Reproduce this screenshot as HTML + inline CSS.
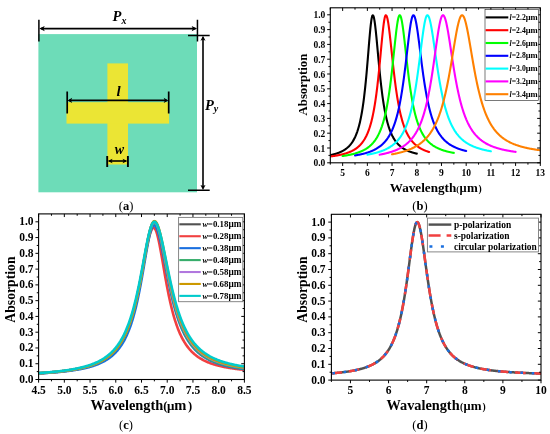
<!DOCTYPE html>
<html lang="en"><head><meta charset="utf-8"><title>Figure</title>
<style>html,body{margin:0;padding:0;background:#fff}svg{display:block}text{font-family:'Liberation Serif', 'DejaVu Serif', serif;font-weight:bold;fill:#000}</style></head><body>
<svg width="550" height="434" viewBox="0 0 550 434">
<rect width="550" height="434" fill="#fff"/>
<g id="pa">
<rect x="38.4" y="34.1" width="158.6" height="158.2" fill="#6ddcb8"/>
<rect x="107.4" y="63.4" width="20.6" height="101.1" fill="#ebe534"/>
<rect x="66.5" y="102.2" width="102.6" height="21.4" fill="#ebe534"/>
<path d="M38.9 19.8 V41.4 M197.45 19.8 V41.4" stroke="#000" stroke-width="1.5" fill="none"/>
<path d="M40.9 28.6 H195.45" stroke="#000" stroke-width="1.6" fill="none"/>
<path d="M39.3 28.6 l5.4 -2.7 l-1.2 2.7 l1.2 2.7z" fill="#000"/>
<path d="M197.05 28.6 l-5.4 -2.7 l1.2 2.7 l-1.2 2.7z" fill="#000"/>
<path d="M188 35.4 H209.7 M188 190.3 H209.7" stroke="#000" stroke-width="1.5" fill="none"/>
<path d="M203 37.4 V188.3" stroke="#000" stroke-width="1.6" fill="none"/>
<path d="M203 35.8 l-2.5 5 l2.5 -1.2 l2.5 1.2z" fill="#000"/>
<path d="M203 189.9 l-2.5 -5 l2.5 1.2 l2.5 -1.2z" fill="#000"/>
<path d="M67.2 91.5 V113.4 M168.7 91.5 V113.4" stroke="#000" stroke-width="1.7" fill="none"/>
<path d="M69.2 100.4 H166.7" stroke="#000" stroke-width="1.6" fill="none"/>
<path d="M67.6 100.4 l4.6 -2.6 l-1.2 2.6 l1.2 2.6z" fill="#000"/>
<path d="M168.3 100.4 l-4.6 -2.6 l1.2 2.6 l-1.2 2.6z" fill="#000"/>
<path d="M107.2 156.1 V167 M127.9 156.1 V167" stroke="#000" stroke-width="1.9" fill="none"/>
<path d="M109.2 161 H125.9" stroke="#000" stroke-width="1.6" fill="none"/>
<path d="M107.6 161 l5 -2.3 l-1.2 2.3 l1.2 2.3z" fill="#000"/>
<path d="M127.5 161 l-5 -2.3 l1.2 2.3 l-1.2 2.3z" fill="#000"/>
<text x="112.6" y="20.8" font-size="14.5" font-style="italic">P<tspan font-size="10" dy="3">x</tspan></text>
<text x="205" y="109.8" font-size="14.5" font-style="italic">P<tspan font-size="10" dy="2.4">y</tspan></text>
<text x="118.5" y="96.4" font-size="15" font-style="italic" text-anchor="middle">l</text>
<text x="119.5" y="154.4" font-size="14" font-style="italic" text-anchor="middle">w</text>
<text x="126" y="209.8" font-size="12.5" text-anchor="middle" style="font-weight:normal">(<tspan style="font-weight:bold">a</tspan>)</text>
</g>
<g id="pb">
<clipPath id="cb"><rect x="330.3" y="7.8" width="210" height="155"/></clipPath>
<g clip-path="url(#cb)" fill="none" stroke-width="2.1" stroke-linejoin="round" stroke-linecap="round">
<path d="M330.3 155.11 L330.59 155.06 L330.88 154.99 L331.16 154.93 L331.45 154.87 L331.74 154.8 L332.03 154.74 L332.32 154.67 L332.61 154.6 L332.89 154.53 L333.18 154.46 L333.47 154.39 L333.76 154.31 L334.05 154.24 L334.34 154.16 L334.62 154.08 L334.91 154 L335.2 153.92 L335.49 153.83 L335.78 153.75 L336.06 153.66 L336.35 153.57 L336.64 153.47 L336.93 153.38 L337.22 153.28 L337.51 153.18 L337.79 153.08 L338.08 152.98 L338.37 152.87 L338.66 152.76 L338.95 152.65 L339.24 152.54 L339.52 152.42 L339.81 152.3 L340.1 152.18 L340.39 152.05 L340.68 151.92 L340.96 151.79 L341.25 151.66 L341.54 151.52 L341.83 151.38 L342.12 151.23 L342.41 151.08 L342.69 150.93 L342.98 150.77 L343.27 150.6 L343.56 150.44 L343.85 150.27 L344.14 150.09 L344.42 149.91 L344.71 149.72 L345 149.53 L345.29 149.33 L345.58 149.13 L345.86 148.92 L346.15 148.71 L346.44 148.49 L346.73 148.26 L347.02 148.02 L347.31 147.78 L347.59 147.53 L347.88 147.27 L348.17 147.01 L348.46 146.74 L348.75 146.45 L349.04 146.16 L349.32 145.86 L349.61 145.55 L349.9 145.23 L350.19 144.9 L350.48 144.56 L350.76 144.2 L351.05 143.84 L351.34 143.46 L351.63 143.07 L351.92 142.66 L352.21 142.24 L352.49 141.81 L352.78 141.35 L353.07 140.89 L353.36 140.4 L353.65 139.9 L353.94 139.38 L354.22 138.84 L354.51 138.27 L354.8 137.69 L355.09 137.08 L355.38 136.45 L355.66 135.79 L355.95 135.11 L356.24 134.4 L356.53 133.66 L356.82 132.89 L357.11 132.09 L357.39 131.26 L357.68 130.39 L357.97 129.48 L358.26 128.53 L358.55 127.54 L358.84 126.51 L359.12 125.44 L359.41 124.31 L359.7 123.14 L359.99 121.91 L360.28 120.63 L360.56 119.29 L360.85 117.89 L361.14 116.42 L361.43 114.89 L361.72 113.29 L362.01 111.62 L362.29 109.87 L362.58 108.04 L362.87 106.12 L363.16 104.13 L363.45 102.04 L363.74 99.85 L364.02 97.58 L364.31 95.2 L364.6 92.73 L364.89 90.15 L365.18 87.47 L365.46 84.69 L365.75 81.8 L366.04 78.82 L366.33 75.73 L366.62 72.55 L366.91 69.28 L367.19 65.93 L367.48 62.52 L367.77 59.04 L368.06 55.52 L368.35 51.97 L368.64 48.43 L368.92 44.9 L369.21 41.42 L369.5 38.01 L369.79 34.72 L370.08 31.56 L370.36 28.59 L370.65 25.83 L370.94 23.32 L371.23 21.1 L371.52 19.19 L371.81 17.64 L372.09 16.45 L372.38 15.67 L372.67 15.28 L372.96 15.3 L373.25 15.65 L373.54 16.32 L373.82 17.3 L374.11 18.59 L374.4 20.16 L374.69 21.99 L374.98 24.06 L375.26 26.35 L375.55 28.83 L375.84 31.48 L376.13 34.28 L376.42 37.18 L376.71 40.18 L376.99 43.25 L377.28 46.36 L377.57 49.5 L377.86 52.65 L378.15 55.8 L378.44 58.92 L378.72 62 L379.01 65.05 L379.3 68.03 L379.59 70.96 L379.88 73.82 L380.16 76.6 L380.45 79.31 L380.74 81.95 L381.03 84.5 L381.32 86.96 L381.61 89.35 L381.89 91.66 L382.18 93.88 L382.47 96.03 L382.76 98.09 L383.05 100.08 L383.34 102 L383.62 103.84 L383.91 105.61 L384.2 107.31 L384.49 108.95 L384.78 110.53 L385.06 112.04 L385.35 113.49 L385.64 114.89 L385.93 116.23 L386.22 117.52 L386.51 118.76 L386.79 119.95 L387.08 121.09 L387.37 122.2 L387.66 123.25 L387.95 124.27 L388.24 125.25 L388.52 126.19 L388.81 127.1 L389.1 127.98 L389.39 128.82 L389.68 129.63 L389.96 130.41 L390.25 131.16 L390.54 131.88 L390.83 132.58 L391.12 133.25 L391.41 133.9 L391.69 134.53 L391.98 135.14 L392.27 135.72 L392.56 136.29 L392.85 136.83 L393.14 137.36 L393.42 137.87 L393.71 138.36 L394 138.84 L394.29 139.3 L394.58 139.74 L394.86 140.17 L395.15 140.59 L395.44 141 L395.73 141.39 L396.02 141.77 L396.31 142.13 L396.59 142.49 L396.88 142.84 L397.17 143.17 L397.46 143.5 L397.75 143.81 L398.04 144.12 L398.32 144.42 L398.61 144.71 L398.9 144.99 L399.19 145.26 L399.48 145.52 L399.76 145.78 L400.05 146.03 L400.34 146.28 L400.63 146.51 L400.92 146.74 L401.21 146.97 L401.49 147.18 L401.78 147.4 L402.07 147.6 L402.36 147.81 L402.65 148 L402.94 148.19 L403.22 148.38 L403.51 148.56 L403.8 148.74 L404.09 148.91 L404.38 149.08 L404.66 149.24 L404.95 149.4 L405.24 149.56 L405.53 149.71 L405.82 149.86 L406.11 150.01 L406.39 150.15 L406.68 150.29 L406.97 150.42 L407.26 150.55 L407.55 150.68 L407.84 150.81 L408.12 150.93 L408.41 151.05 L408.7 151.17 L408.99 151.29 L409.28 151.4 L409.56 151.51 L409.85 151.62 L410.14 151.72 L410.43 151.83 L410.72 151.93 L411.01 152.03 L411.29 152.12 L411.58 152.22 L411.87 152.31 L412.16 152.4 L412.45 152.49 L412.74 152.58 L413.02 152.67 L413.31 152.75 L413.6 152.83 L413.89 152.91 L414.18 152.99 L414.46 153.07 L414.75 153.14 L415.04 153.22 L415.33 153.29 L415.62 153.36 L415.91 153.43 L416.19 153.5 L416.48 153.57 L416.77 153.64" stroke="#000000"/>
<path d="M330.3 156.45 L330.63 156.41 L330.96 156.37 L331.29 156.32 L331.62 156.28 L331.95 156.24 L332.28 156.19 L332.61 156.15 L332.94 156.1 L333.26 156.06 L333.59 156.01 L333.92 155.96 L334.25 155.91 L334.58 155.86 L334.91 155.81 L335.24 155.76 L335.57 155.7 L335.9 155.65 L336.23 155.59 L336.56 155.54 L336.89 155.48 L337.22 155.42 L337.55 155.36 L337.88 155.3 L338.21 155.24 L338.54 155.18 L338.86 155.11 L339.19 155.05 L339.52 154.98 L339.85 154.91 L340.18 154.84 L340.51 154.77 L340.84 154.7 L341.17 154.62 L341.5 154.55 L341.83 154.47 L342.16 154.39 L342.49 154.31 L342.82 154.23 L343.15 154.14 L343.48 154.05 L343.81 153.97 L344.14 153.88 L344.46 153.78 L344.79 153.69 L345.12 153.59 L345.45 153.49 L345.78 153.39 L346.11 153.29 L346.44 153.18 L346.77 153.07 L347.1 152.96 L347.43 152.85 L347.76 152.73 L348.09 152.61 L348.42 152.49 L348.75 152.36 L349.08 152.24 L349.41 152.1 L349.74 151.97 L350.06 151.83 L350.39 151.69 L350.72 151.54 L351.05 151.39 L351.38 151.24 L351.71 151.08 L352.04 150.92 L352.37 150.75 L352.7 150.58 L353.03 150.4 L353.36 150.22 L353.69 150.04 L354.02 149.85 L354.35 149.65 L354.68 149.45 L355.01 149.24 L355.34 149.03 L355.66 148.81 L355.99 148.58 L356.32 148.34 L356.65 148.1 L356.98 147.85 L357.31 147.6 L357.64 147.34 L357.97 147.06 L358.3 146.78 L358.63 146.49 L358.96 146.19 L359.29 145.88 L359.62 145.56 L359.95 145.24 L360.28 144.89 L360.61 144.54 L360.94 144.18 L361.26 143.8 L361.59 143.41 L361.92 143.01 L362.25 142.59 L362.58 142.16 L362.91 141.71 L363.24 141.24 L363.57 140.76 L363.9 140.26 L364.23 139.74 L364.56 139.21 L364.89 138.65 L365.22 138.07 L365.55 137.46 L365.88 136.84 L366.21 136.19 L366.54 135.51 L366.86 134.8 L367.19 134.07 L367.52 133.31 L367.85 132.51 L368.18 131.68 L368.51 130.82 L368.84 129.92 L369.17 128.98 L369.5 128 L369.83 126.98 L370.16 125.91 L370.49 124.8 L370.82 123.64 L371.15 122.42 L371.48 121.15 L371.81 119.83 L372.14 118.44 L372.46 116.99 L372.79 115.48 L373.12 113.89 L373.45 112.24 L373.78 110.5 L374.11 108.69 L374.44 106.8 L374.77 104.82 L375.1 102.76 L375.43 100.6 L375.76 98.35 L376.09 96 L376.42 93.55 L376.75 91 L377.08 88.34 L377.41 85.59 L377.74 82.73 L378.06 79.77 L378.39 76.71 L378.72 73.56 L379.05 70.31 L379.38 66.98 L379.71 63.58 L380.04 60.12 L380.37 56.61 L380.7 53.07 L381.03 49.52 L381.36 45.99 L381.69 42.49 L382.02 39.06 L382.35 35.73 L382.68 32.53 L383.01 29.5 L383.34 26.67 L383.66 24.08 L383.99 21.76 L384.32 19.76 L384.65 18.09 L384.98 16.79 L385.31 15.87 L385.64 15.36 L385.97 15.25 L386.3 15.49 L386.63 16.05 L386.96 16.92 L387.29 18.08 L387.62 19.52 L387.95 21.24 L388.28 23.19 L388.61 25.37 L388.94 27.75 L389.26 30.3 L389.59 33 L389.92 35.83 L390.25 38.76 L390.58 41.76 L390.91 44.82 L391.24 47.92 L391.57 51.03 L391.9 54.15 L392.23 57.25 L392.56 60.32 L392.89 63.36 L393.22 66.35 L393.55 69.28 L393.88 72.15 L394.21 74.96 L394.54 77.69 L394.86 80.34 L395.19 82.92 L395.52 85.42 L395.85 87.84 L396.18 90.18 L396.51 92.43 L396.84 94.61 L397.17 96.72 L397.5 98.74 L397.83 100.7 L398.16 102.57 L398.49 104.38 L398.82 106.12 L399.15 107.8 L399.48 109.41 L399.81 110.95 L400.14 112.44 L400.46 113.87 L400.79 115.25 L401.12 116.57 L401.45 117.84 L401.78 119.07 L402.11 120.24 L402.44 121.37 L402.77 122.46 L403.1 123.51 L403.43 124.51 L403.76 125.48 L404.09 126.42 L404.42 127.32 L404.75 128.18 L405.08 129.01 L405.41 129.82 L405.74 130.59 L406.06 131.34 L406.39 132.06 L406.72 132.75 L407.05 133.42 L407.38 134.07 L407.71 134.69 L408.04 135.29 L408.37 135.88 L408.7 136.44 L409.03 136.98 L409.36 137.51 L409.69 138.01 L410.02 138.51 L410.35 138.98 L410.68 139.44 L411.01 139.89 L411.34 140.32 L411.66 140.73 L411.99 141.14 L412.32 141.53 L412.65 141.91 L412.98 142.28 L413.31 142.63 L413.64 142.98 L413.97 143.32 L414.3 143.64 L414.63 143.96 L414.96 144.27 L415.29 144.56 L415.62 144.85 L415.95 145.13 L416.28 145.41 L416.61 145.67 L416.94 145.93 L417.26 146.18 L417.59 146.43 L417.92 146.67 L418.25 146.9 L418.58 147.12 L418.91 147.34 L419.24 147.56 L419.57 147.76 L419.9 147.97 L420.23 148.16 L420.56 148.36 L420.89 148.54 L421.22 148.73 L421.55 148.9 L421.88 149.08 L422.21 149.25 L422.54 149.41 L422.86 149.57 L423.19 149.73 L423.52 149.89 L423.85 150.04 L424.18 150.18 L424.51 150.33 L424.84 150.47 L425.17 150.6 L425.5 150.74 L425.83 150.87 L426.16 150.99 L426.49 151.12 L426.82 151.24 L427.15 151.36 L427.48 151.48 L427.81 151.59 L428.14 151.7 L428.46 151.81 L428.79 151.92 L429.12 152.02" stroke="#ff0000"/>
<path d="M342.65 156.01 L343.02 155.95 L343.39 155.9 L343.76 155.84 L344.14 155.79 L344.51 155.73 L344.88 155.67 L345.25 155.61 L345.62 155.55 L345.99 155.49 L346.36 155.43 L346.73 155.36 L347.1 155.3 L347.47 155.23 L347.84 155.16 L348.21 155.09 L348.58 155.02 L348.95 154.95 L349.32 154.87 L349.69 154.8 L350.06 154.72 L350.44 154.64 L350.81 154.56 L351.18 154.48 L351.55 154.39 L351.92 154.3 L352.29 154.22 L352.66 154.13 L353.03 154.03 L353.4 153.94 L353.77 153.84 L354.14 153.74 L354.51 153.64 L354.88 153.54 L355.25 153.43 L355.62 153.32 L355.99 153.21 L356.36 153.1 L356.74 152.98 L357.11 152.86 L357.48 152.74 L357.85 152.62 L358.22 152.49 L358.59 152.36 L358.96 152.22 L359.33 152.08 L359.7 151.94 L360.07 151.79 L360.44 151.64 L360.81 151.49 L361.18 151.33 L361.55 151.17 L361.92 151 L362.29 150.83 L362.66 150.66 L363.04 150.48 L363.41 150.29 L363.78 150.1 L364.15 149.91 L364.52 149.7 L364.89 149.5 L365.26 149.28 L365.63 149.06 L366 148.84 L366.37 148.6 L366.74 148.36 L367.11 148.12 L367.48 147.86 L367.85 147.6 L368.22 147.33 L368.59 147.05 L368.96 146.76 L369.34 146.46 L369.71 146.15 L370.08 145.83 L370.45 145.5 L370.82 145.16 L371.19 144.81 L371.56 144.45 L371.93 144.07 L372.3 143.69 L372.67 143.28 L373.04 142.87 L373.41 142.44 L373.78 141.99 L374.15 141.53 L374.52 141.05 L374.89 140.55 L375.26 140.04 L375.64 139.5 L376.01 138.94 L376.38 138.37 L376.75 137.77 L377.12 137.14 L377.49 136.5 L377.86 135.82 L378.23 135.12 L378.6 134.39 L378.97 133.63 L379.34 132.84 L379.71 132.02 L380.08 131.16 L380.45 130.27 L380.82 129.34 L381.19 128.36 L381.56 127.35 L381.94 126.29 L382.31 125.18 L382.68 124.03 L383.05 122.82 L383.42 121.56 L383.79 120.25 L384.16 118.87 L384.53 117.43 L384.9 115.93 L385.27 114.36 L385.64 112.71 L386.01 111 L386.38 109.2 L386.75 107.32 L387.12 105.36 L387.49 103.31 L387.86 101.17 L388.24 98.94 L388.61 96.61 L388.98 94.18 L389.35 91.65 L389.72 89.02 L390.09 86.28 L390.46 83.45 L390.83 80.51 L391.2 77.47 L391.57 74.33 L391.94 71.11 L392.31 67.8 L392.68 64.41 L393.05 60.96 L393.42 57.46 L393.79 53.93 L394.16 50.38 L394.54 46.84 L394.91 43.33 L395.28 39.88 L395.65 36.52 L396.02 33.29 L396.39 30.21 L396.76 27.33 L397.13 24.69 L397.5 22.3 L397.87 20.22 L398.24 18.47 L398.61 17.08 L398.98 16.06 L399.35 15.45 L399.72 15.24 L400.09 15.43 L400.46 15.98 L400.84 16.9 L401.21 18.16 L401.58 19.75 L401.95 21.64 L402.32 23.81 L402.69 26.23 L403.06 28.87 L403.43 31.7 L403.8 34.68 L404.17 37.79 L404.54 41 L404.91 44.27 L405.28 47.6 L405.65 50.94 L406.02 54.28 L406.39 57.6 L406.76 60.89 L407.14 64.13 L407.51 67.31 L407.88 70.43 L408.25 73.46 L408.62 76.42 L408.99 79.28 L409.36 82.06 L409.73 84.74 L410.1 87.34 L410.47 89.84 L410.84 92.24 L411.21 94.56 L411.58 96.79 L411.95 98.93 L412.32 100.98 L412.69 102.95 L413.06 104.84 L413.44 106.65 L413.81 108.39 L414.18 110.05 L414.55 111.65 L414.92 113.18 L415.29 114.64 L415.66 116.05 L416.03 117.39 L416.4 118.68 L416.77 119.92 L417.14 121.1 L417.51 122.24 L417.88 123.33 L418.25 124.38 L418.62 125.38 L418.99 126.34 L419.36 127.27 L419.74 128.16 L420.11 129.01 L420.48 129.83 L420.85 130.62 L421.22 131.38 L421.59 132.11 L421.96 132.81 L422.33 133.48 L422.7 134.13 L423.07 134.76 L423.44 135.36 L423.81 135.94 L424.18 136.5 L424.55 137.04 L424.92 137.56 L425.29 138.07 L425.66 138.55 L426.04 139.02 L426.41 139.47 L426.78 139.91 L427.15 140.33 L427.52 140.74 L427.89 141.14 L428.26 141.52 L428.63 141.89 L429 142.25 L429.37 142.59 L429.74 142.93 L430.11 143.25 L430.48 143.57 L430.85 143.87 L431.22 144.17 L431.59 144.45 L431.96 144.73 L432.34 145 L432.71 145.26 L433.08 145.52 L433.45 145.76 L433.82 146 L434.19 146.24 L434.56 146.46 L434.93 146.68 L435.3 146.9 L435.67 147.1 L436.04 147.31 L436.41 147.5 L436.78 147.69 L437.15 147.88 L437.52 148.06 L437.89 148.24 L438.26 148.41 L438.64 148.58 L439.01 148.74 L439.38 148.9 L439.75 149.05 L440.12 149.2 L440.49 149.35 L440.86 149.49 L441.23 149.63 L441.6 149.77 L441.97 149.9 L442.34 150.03 L442.71 150.16 L443.08 150.28 L443.45 150.41 L443.82 150.52 L444.19 150.64 L444.56 150.75 L444.94 150.86 L445.31 150.97 L445.68 151.08 L446.05 151.18 L446.42 151.28 L446.79 151.38 L447.16 151.47 L447.53 151.57 L447.9 151.66 L448.27 151.75 L448.64 151.84 L449.01 151.92 L449.38 152.01 L449.75 152.09 L450.12 152.17 L450.49 152.25 L450.86 152.33 L451.24 152.41 L451.61 152.48 L451.98 152.55 L452.35 152.63 L452.72 152.7 L453.09 152.76 L453.46 152.83 L453.83 152.9" stroke="#00ff00"/>
<path d="M355.01 155.42 L355.38 155.36 L355.75 155.29 L356.12 155.23 L356.49 155.17 L356.86 155.1 L357.23 155.03 L357.6 154.97 L357.97 154.9 L358.34 154.83 L358.71 154.76 L359.08 154.68 L359.45 154.61 L359.82 154.53 L360.19 154.45 L360.56 154.38 L360.94 154.29 L361.31 154.21 L361.68 154.13 L362.05 154.04 L362.42 153.95 L362.79 153.87 L363.16 153.77 L363.53 153.68 L363.9 153.59 L364.27 153.49 L364.64 153.39 L365.01 153.29 L365.38 153.18 L365.75 153.08 L366.12 152.97 L366.49 152.86 L366.86 152.75 L367.24 152.63 L367.61 152.51 L367.98 152.39 L368.35 152.27 L368.72 152.14 L369.09 152.01 L369.46 151.88 L369.83 151.75 L370.2 151.61 L370.57 151.46 L370.94 151.32 L371.31 151.17 L371.68 151.02 L372.05 150.86 L372.42 150.7 L372.79 150.54 L373.16 150.37 L373.54 150.19 L373.91 150.02 L374.28 149.84 L374.65 149.65 L375.02 149.46 L375.39 149.26 L375.76 149.06 L376.13 148.85 L376.5 148.64 L376.87 148.42 L377.24 148.2 L377.61 147.97 L377.98 147.73 L378.35 147.49 L378.72 147.23 L379.09 146.98 L379.46 146.71 L379.84 146.44 L380.21 146.16 L380.58 145.87 L380.95 145.57 L381.32 145.26 L381.69 144.95 L382.06 144.62 L382.43 144.29 L382.8 143.94 L383.17 143.58 L383.54 143.21 L383.91 142.83 L384.28 142.44 L384.65 142.04 L385.02 141.62 L385.39 141.19 L385.76 140.74 L386.14 140.28 L386.51 139.8 L386.88 139.31 L387.25 138.8 L387.62 138.27 L387.99 137.73 L388.36 137.16 L388.73 136.57 L389.1 135.97 L389.47 135.34 L389.84 134.69 L390.21 134.01 L390.58 133.31 L390.95 132.59 L391.32 131.83 L391.69 131.05 L392.06 130.24 L392.44 129.4 L392.81 128.52 L393.18 127.61 L393.55 126.67 L393.92 125.69 L394.29 124.67 L394.66 123.6 L395.03 122.5 L395.4 121.35 L395.77 120.16 L396.14 118.91 L396.51 117.62 L396.88 116.27 L397.25 114.87 L397.62 113.41 L397.99 111.9 L398.36 110.32 L398.74 108.67 L399.11 106.96 L399.48 105.18 L399.85 103.33 L400.22 101.41 L400.59 99.41 L400.96 97.33 L401.33 95.17 L401.7 92.93 L402.07 90.61 L402.44 88.21 L402.81 85.72 L403.18 83.15 L403.55 80.5 L403.92 77.77 L404.29 74.96 L404.66 72.07 L405.04 69.11 L405.41 66.1 L405.78 63.02 L406.15 59.9 L406.52 56.74 L406.89 53.55 L407.26 50.36 L407.63 47.17 L408 44.01 L408.37 40.89 L408.74 37.84 L409.11 34.87 L409.48 32.03 L409.85 29.32 L410.22 26.78 L410.59 24.43 L410.96 22.3 L411.34 20.41 L411.71 18.79 L412.08 17.45 L412.45 16.42 L412.82 15.71 L413.19 15.32 L413.56 15.26 L413.93 15.5 L414.3 16.04 L414.67 16.85 L415.04 17.94 L415.41 19.29 L415.78 20.89 L416.15 22.71 L416.52 24.74 L416.89 26.96 L417.26 29.35 L417.64 31.87 L418.01 34.52 L418.38 37.27 L418.75 40.1 L419.12 42.99 L419.49 45.92 L419.86 48.87 L420.23 51.84 L420.6 54.8 L420.97 57.74 L421.34 60.66 L421.71 63.54 L422.08 66.37 L422.45 69.15 L422.82 71.87 L423.19 74.53 L423.56 77.12 L423.94 79.64 L424.31 82.1 L424.68 84.47 L425.05 86.78 L425.42 89.01 L425.79 91.17 L426.16 93.26 L426.53 95.28 L426.9 97.22 L427.27 99.1 L427.64 100.91 L428.01 102.66 L428.38 104.34 L428.75 105.96 L429.12 107.52 L429.49 109.02 L429.86 110.47 L430.24 111.86 L430.61 113.2 L430.98 114.5 L431.35 115.74 L431.72 116.94 L432.09 118.09 L432.46 119.2 L432.83 120.27 L433.2 121.3 L433.57 122.29 L433.94 123.25 L434.31 124.17 L434.68 125.06 L435.05 125.92 L435.42 126.75 L435.79 127.55 L436.16 128.31 L436.54 129.06 L436.91 129.77 L437.28 130.47 L437.65 131.14 L438.02 131.78 L438.39 132.41 L438.76 133.01 L439.13 133.59 L439.5 134.16 L439.87 134.7 L440.24 135.23 L440.61 135.74 L440.98 136.23 L441.35 136.71 L441.72 137.18 L442.09 137.62 L442.46 138.06 L442.84 138.48 L443.21 138.89 L443.58 139.29 L443.95 139.67 L444.32 140.04 L444.69 140.4 L445.06 140.76 L445.43 141.1 L445.8 141.43 L446.17 141.75 L446.54 142.06 L446.91 142.36 L447.28 142.66 L447.65 142.95 L448.02 143.22 L448.39 143.5 L448.76 143.76 L449.14 144.02 L449.51 144.27 L449.88 144.51 L450.25 144.74 L450.62 144.98 L450.99 145.2 L451.36 145.42 L451.73 145.63 L452.1 145.84 L452.47 146.04 L452.84 146.24 L453.21 146.43 L453.58 146.62 L453.95 146.8 L454.32 146.98 L454.69 147.15 L455.06 147.32 L455.44 147.49 L455.81 147.65 L456.18 147.81 L456.55 147.96 L456.92 148.11 L457.29 148.26 L457.66 148.41 L458.03 148.55 L458.4 148.68 L458.77 148.82 L459.14 148.95 L459.51 149.08 L459.88 149.2 L460.25 149.33 L460.62 149.45 L460.99 149.57 L461.36 149.68 L461.74 149.79 L462.11 149.9 L462.48 150.01 L462.85 150.12 L463.22 150.22 L463.59 150.32 L463.96 150.42 L464.33 150.52 L464.7 150.62 L465.07 150.71 L465.44 150.8 L465.81 150.89 L466.18 150.98" stroke="#0000ff"/>
<path d="M367.36 154.68 L367.77 154.61 L368.18 154.53 L368.59 154.46 L369.01 154.38 L369.42 154.31 L369.83 154.23 L370.24 154.15 L370.65 154.07 L371.06 153.98 L371.48 153.9 L371.89 153.81 L372.3 153.72 L372.71 153.63 L373.12 153.54 L373.54 153.44 L373.95 153.34 L374.36 153.24 L374.77 153.14 L375.18 153.04 L375.59 152.93 L376.01 152.83 L376.42 152.71 L376.83 152.6 L377.24 152.48 L377.65 152.37 L378.06 152.24 L378.48 152.12 L378.89 151.99 L379.3 151.86 L379.71 151.73 L380.12 151.59 L380.54 151.45 L380.95 151.31 L381.36 151.16 L381.77 151.01 L382.18 150.86 L382.59 150.7 L383.01 150.54 L383.42 150.37 L383.83 150.2 L384.24 150.02 L384.65 149.84 L385.06 149.66 L385.48 149.47 L385.89 149.27 L386.3 149.07 L386.71 148.87 L387.12 148.66 L387.54 148.44 L387.95 148.22 L388.36 147.99 L388.77 147.75 L389.18 147.51 L389.59 147.26 L390.01 147 L390.42 146.73 L390.83 146.46 L391.24 146.18 L391.65 145.89 L392.06 145.59 L392.48 145.29 L392.89 144.97 L393.3 144.64 L393.71 144.3 L394.12 143.96 L394.54 143.6 L394.95 143.23 L395.36 142.84 L395.77 142.45 L396.18 142.04 L396.59 141.62 L397.01 141.18 L397.42 140.73 L397.83 140.26 L398.24 139.78 L398.65 139.28 L399.06 138.76 L399.48 138.22 L399.89 137.66 L400.3 137.09 L400.71 136.49 L401.12 135.87 L401.54 135.23 L401.95 134.56 L402.36 133.87 L402.77 133.15 L403.18 132.41 L403.59 131.63 L404.01 130.83 L404.42 129.99 L404.83 129.12 L405.24 128.21 L405.65 127.27 L406.06 126.29 L406.48 125.27 L406.89 124.21 L407.3 123.11 L407.71 121.96 L408.12 120.76 L408.54 119.51 L408.95 118.21 L409.36 116.86 L409.77 115.44 L410.18 113.97 L410.59 112.44 L411.01 110.84 L411.42 109.17 L411.83 107.44 L412.24 105.63 L412.65 103.74 L413.06 101.78 L413.48 99.74 L413.89 97.62 L414.3 95.41 L414.71 93.12 L415.12 90.74 L415.54 88.27 L415.95 85.71 L416.36 83.06 L416.77 80.33 L417.18 77.51 L417.59 74.61 L418.01 71.63 L418.42 68.57 L418.83 65.45 L419.24 62.27 L419.65 59.04 L420.06 55.77 L420.48 52.48 L420.89 49.19 L421.3 45.91 L421.71 42.67 L422.12 39.48 L422.54 36.37 L422.95 33.37 L423.36 30.51 L423.77 27.81 L424.18 25.3 L424.59 23.02 L425.01 20.98 L425.42 19.22 L425.83 17.76 L426.24 16.62 L426.65 15.82 L427.06 15.36 L427.48 15.25 L427.89 15.45 L428.3 15.92 L428.71 16.68 L429.12 17.69 L429.54 18.96 L429.95 20.47 L430.36 22.21 L430.77 24.14 L431.18 26.27 L431.59 28.56 L432.01 30.99 L432.42 33.55 L432.83 36.21 L433.24 38.96 L433.65 41.77 L434.06 44.63 L434.48 47.51 L434.89 50.42 L435.3 53.32 L435.71 56.21 L436.12 59.09 L436.54 61.93 L436.95 64.73 L437.36 67.48 L437.77 70.18 L438.18 72.82 L438.59 75.4 L439.01 77.91 L439.42 80.36 L439.83 82.73 L440.24 85.04 L440.65 87.27 L441.06 89.44 L441.48 91.54 L441.89 93.56 L442.3 95.52 L442.71 97.41 L443.12 99.24 L443.54 101 L443.95 102.69 L444.36 104.33 L444.77 105.91 L445.18 107.43 L445.59 108.89 L446.01 110.31 L446.42 111.67 L446.83 112.98 L447.24 114.24 L447.65 115.46 L448.06 116.63 L448.48 117.76 L448.89 118.85 L449.3 119.9 L449.71 120.91 L450.12 121.88 L450.54 122.82 L450.95 123.73 L451.36 124.61 L451.77 125.45 L452.18 126.27 L452.59 127.05 L453.01 127.81 L453.42 128.54 L453.83 129.25 L454.24 129.93 L454.65 130.6 L455.06 131.23 L455.48 131.85 L455.89 132.45 L456.3 133.03 L456.71 133.58 L457.12 134.13 L457.54 134.65 L457.95 135.15 L458.36 135.65 L458.77 136.12 L459.18 136.58 L459.59 137.03 L460.01 137.46 L460.42 137.88 L460.83 138.29 L461.24 138.68 L461.65 139.06 L462.06 139.43 L462.48 139.79 L462.89 140.14 L463.3 140.48 L463.71 140.82 L464.12 141.14 L464.54 141.45 L464.95 141.75 L465.36 142.05 L465.77 142.33 L466.18 142.61 L466.59 142.88 L467.01 143.15 L467.42 143.4 L467.83 143.65 L468.24 143.9 L468.65 144.13 L469.06 144.36 L469.48 144.59 L469.89 144.81 L470.3 145.02 L470.71 145.23 L471.12 145.43 L471.54 145.63 L471.95 145.82 L472.36 146.01 L472.77 146.19 L473.18 146.37 L473.59 146.55 L474.01 146.72 L474.42 146.89 L474.83 147.05 L475.24 147.21 L475.65 147.36 L476.06 147.52 L476.48 147.66 L476.89 147.81 L477.3 147.95 L477.71 148.09 L478.12 148.22 L478.54 148.36 L478.95 148.49 L479.36 148.61 L479.77 148.74 L480.18 148.86 L480.59 148.98 L481.01 149.09 L481.42 149.21 L481.83 149.32 L482.24 149.43 L482.65 149.53 L483.06 149.64 L483.48 149.74 L483.89 149.84 L484.3 149.94 L484.71 150.04 L485.12 150.13 L485.54 150.22 L485.95 150.31 L486.36 150.4 L486.77 150.49 L487.18 150.58 L487.59 150.66 L488.01 150.74 L488.42 150.82 L488.83 150.9 L489.24 150.98 L489.65 151.06 L490.06 151.13 L490.48 151.2 L490.89 151.28" stroke="#00ffff"/>
<path d="M379.71 154.68 L380.16 154.59 L380.62 154.51 L381.07 154.42 L381.52 154.33 L381.98 154.24 L382.43 154.15 L382.88 154.05 L383.34 153.96 L383.79 153.86 L384.24 153.76 L384.69 153.65 L385.15 153.55 L385.6 153.44 L386.05 153.33 L386.51 153.22 L386.96 153.1 L387.41 152.99 L387.86 152.86 L388.32 152.74 L388.77 152.61 L389.22 152.49 L389.68 152.35 L390.13 152.22 L390.58 152.08 L391.04 151.94 L391.49 151.79 L391.94 151.64 L392.39 151.49 L392.85 151.33 L393.3 151.17 L393.75 151.01 L394.21 150.84 L394.66 150.67 L395.11 150.49 L395.56 150.31 L396.02 150.12 L396.47 149.93 L396.92 149.73 L397.38 149.53 L397.83 149.32 L398.28 149.11 L398.74 148.89 L399.19 148.66 L399.64 148.43 L400.09 148.19 L400.55 147.95 L401 147.69 L401.45 147.43 L401.91 147.17 L402.36 146.89 L402.81 146.61 L403.26 146.32 L403.72 146.02 L404.17 145.71 L404.62 145.39 L405.08 145.06 L405.53 144.72 L405.98 144.37 L406.44 144.01 L406.89 143.64 L407.34 143.25 L407.79 142.86 L408.25 142.45 L408.7 142.02 L409.15 141.59 L409.61 141.13 L410.06 140.67 L410.51 140.18 L410.96 139.68 L411.42 139.16 L411.87 138.63 L412.32 138.07 L412.78 137.5 L413.23 136.9 L413.68 136.28 L414.14 135.64 L414.59 134.98 L415.04 134.29 L415.49 133.57 L415.95 132.83 L416.4 132.06 L416.85 131.26 L417.31 130.43 L417.76 129.57 L418.21 128.67 L418.66 127.74 L419.12 126.77 L419.57 125.76 L420.02 124.71 L420.48 123.62 L420.93 122.49 L421.38 121.3 L421.84 120.07 L422.29 118.79 L422.74 117.46 L423.19 116.07 L423.65 114.62 L424.1 113.11 L424.55 111.54 L425.01 109.91 L425.46 108.21 L425.91 106.43 L426.36 104.59 L426.82 102.67 L427.27 100.67 L427.72 98.6 L428.18 96.44 L428.63 94.2 L429.08 91.88 L429.54 89.47 L429.99 86.97 L430.44 84.39 L430.89 81.72 L431.35 78.97 L431.8 76.13 L432.25 73.22 L432.71 70.23 L433.16 67.18 L433.61 64.06 L434.06 60.9 L434.52 57.69 L434.97 54.45 L435.42 51.2 L435.88 47.95 L436.33 44.72 L436.78 41.53 L437.24 38.41 L437.69 35.37 L438.14 32.46 L438.59 29.68 L439.05 27.07 L439.5 24.66 L439.95 22.47 L440.41 20.53 L440.86 18.86 L441.31 17.49 L441.76 16.43 L442.22 15.7 L442.67 15.31 L443.12 15.26 L443.58 15.52 L444.03 16.07 L444.48 16.91 L444.94 18.02 L445.39 19.39 L445.84 21.02 L446.29 22.87 L446.75 24.93 L447.2 27.18 L447.65 29.59 L448.11 32.14 L448.56 34.82 L449.01 37.59 L449.46 40.45 L449.92 43.36 L450.37 46.31 L450.82 49.28 L451.28 52.26 L451.73 55.23 L452.18 58.19 L452.64 61.11 L453.09 63.99 L453.54 66.83 L453.99 69.61 L454.45 72.32 L454.9 74.98 L455.35 77.57 L455.81 80.08 L456.26 82.53 L456.71 84.89 L457.16 87.19 L457.62 89.41 L458.07 91.56 L458.52 93.63 L458.98 95.64 L459.43 97.57 L459.88 99.43 L460.34 101.23 L460.79 102.96 L461.24 104.62 L461.69 106.23 L462.15 107.77 L462.6 109.26 L463.05 110.69 L463.51 112.07 L463.96 113.39 L464.41 114.67 L464.86 115.9 L465.32 117.08 L465.77 118.22 L466.22 119.32 L466.68 120.37 L467.13 121.39 L467.58 122.37 L468.04 123.31 L468.49 124.22 L468.94 125.1 L469.39 125.94 L469.85 126.76 L470.3 127.54 L470.75 128.3 L471.21 129.03 L471.66 129.74 L472.11 130.42 L472.56 131.08 L473.02 131.71 L473.47 132.33 L473.92 132.92 L474.38 133.5 L474.83 134.05 L475.28 134.59 L475.74 135.11 L476.19 135.61 L476.64 136.09 L477.09 136.56 L477.55 137.02 L478 137.46 L478.45 137.89 L478.91 138.3 L479.36 138.7 L479.81 139.09 L480.26 139.47 L480.72 139.84 L481.17 140.19 L481.62 140.54 L482.08 140.87 L482.53 141.2 L482.98 141.51 L483.44 141.82 L483.89 142.12 L484.34 142.41 L484.79 142.69 L485.25 142.96 L485.7 143.23 L486.15 143.49 L486.61 143.74 L487.06 143.98 L487.51 144.22 L487.96 144.45 L488.42 144.68 L488.87 144.9 L489.32 145.11 L489.78 145.32 L490.23 145.53 L490.68 145.72 L491.14 145.92 L491.59 146.11 L492.04 146.29 L492.49 146.47 L492.95 146.64 L493.4 146.82 L493.85 146.98 L494.31 147.15 L494.76 147.3 L495.21 147.46 L495.66 147.61 L496.12 147.76 L496.57 147.9 L497.02 148.04 L497.48 148.18 L497.93 148.32 L498.38 148.45 L498.84 148.58 L499.29 148.7 L499.74 148.83 L500.19 148.95 L500.65 149.07 L501.1 149.18 L501.55 149.29 L502.01 149.4 L502.46 149.51 L502.91 149.62 L503.36 149.72 L503.82 149.82 L504.27 149.92 L504.72 150.02 L505.18 150.12 L505.63 150.21 L506.08 150.3 L506.54 150.39 L506.99 150.48 L507.44 150.57 L507.89 150.65 L508.35 150.73 L508.8 150.81 L509.25 150.89 L509.71 150.97 L510.16 151.05 L510.61 151.12 L511.06 151.2 L511.52 151.27 L511.97 151.34 L512.42 151.41 L512.88 151.48 L513.33 151.55 L513.78 151.61 L514.24 151.68 L514.69 151.74 L515.14 151.8 L515.59 151.87" stroke="#ff00ff"/>
<path d="M392.06 154.31 L392.56 154.22 L393.05 154.12 L393.55 154.02 L394.04 153.93 L394.54 153.83 L395.03 153.72 L395.52 153.62 L396.02 153.51 L396.51 153.4 L397.01 153.29 L397.5 153.18 L397.99 153.06 L398.49 152.94 L398.98 152.82 L399.48 152.7 L399.97 152.57 L400.46 152.44 L400.96 152.31 L401.45 152.17 L401.95 152.04 L402.44 151.89 L402.94 151.75 L403.43 151.6 L403.92 151.45 L404.42 151.29 L404.91 151.13 L405.41 150.97 L405.9 150.8 L406.39 150.63 L406.89 150.46 L407.38 150.28 L407.88 150.1 L408.37 149.91 L408.86 149.72 L409.36 149.52 L409.85 149.32 L410.35 149.11 L410.84 148.89 L411.34 148.68 L411.83 148.45 L412.32 148.22 L412.82 147.98 L413.31 147.74 L413.81 147.49 L414.3 147.23 L414.79 146.97 L415.29 146.7 L415.78 146.42 L416.28 146.14 L416.77 145.84 L417.26 145.54 L417.76 145.23 L418.25 144.91 L418.75 144.58 L419.24 144.24 L419.74 143.89 L420.23 143.53 L420.72 143.16 L421.22 142.78 L421.71 142.38 L422.21 141.98 L422.7 141.56 L423.19 141.13 L423.69 140.68 L424.18 140.22 L424.68 139.75 L425.17 139.26 L425.66 138.75 L426.16 138.23 L426.65 137.69 L427.15 137.13 L427.64 136.56 L428.14 135.96 L428.63 135.35 L429.12 134.71 L429.62 134.05 L430.11 133.37 L430.61 132.66 L431.1 131.93 L431.59 131.17 L432.09 130.39 L432.58 129.57 L433.08 128.73 L433.57 127.86 L434.06 126.95 L434.56 126.01 L435.05 125.04 L435.55 124.03 L436.04 122.98 L436.54 121.89 L437.03 120.76 L437.52 119.59 L438.02 118.37 L438.51 117.11 L439.01 115.8 L439.5 114.43 L439.99 113.02 L440.49 111.55 L440.98 110.03 L441.48 108.44 L441.97 106.8 L442.46 105.1 L442.96 103.33 L443.45 101.49 L443.95 99.59 L444.44 97.62 L444.94 95.58 L445.43 93.47 L445.92 91.28 L446.42 89.02 L446.91 86.69 L447.41 84.28 L447.9 81.8 L448.39 79.24 L448.89 76.62 L449.38 73.93 L449.88 71.17 L450.37 68.36 L450.86 65.48 L451.36 62.57 L451.85 59.61 L452.35 56.62 L452.84 53.61 L453.34 50.59 L453.83 47.58 L454.32 44.59 L454.82 41.63 L455.31 38.73 L455.81 35.9 L456.3 33.17 L456.79 30.56 L457.29 28.08 L457.78 25.76 L458.28 23.63 L458.77 21.69 L459.26 19.98 L459.76 18.51 L460.25 17.3 L460.75 16.36 L461.24 15.7 L461.74 15.33 L462.23 15.25 L462.72 15.47 L463.22 15.97 L463.71 16.76 L464.21 17.82 L464.7 19.13 L465.19 20.69 L465.69 22.48 L466.18 24.47 L466.68 26.65 L467.17 29 L467.66 31.49 L468.16 34.1 L468.65 36.81 L469.15 39.6 L469.64 42.45 L470.14 45.34 L470.63 48.26 L471.12 51.19 L471.62 54.12 L472.11 57.02 L472.61 59.91 L473.1 62.75 L473.59 65.55 L474.09 68.3 L474.58 70.99 L475.08 73.62 L475.57 76.18 L476.06 78.67 L476.56 81.1 L477.05 83.45 L477.55 85.73 L478.04 87.93 L478.54 90.07 L479.03 92.13 L479.52 94.12 L480.02 96.05 L480.51 97.9 L481.01 99.69 L481.5 101.41 L481.99 103.08 L482.49 104.68 L482.98 106.22 L483.48 107.7 L483.97 109.13 L484.46 110.5 L484.96 111.83 L485.45 113.1 L485.95 114.33 L486.44 115.51 L486.94 116.65 L487.43 117.75 L487.92 118.8 L488.42 119.82 L488.91 120.8 L489.41 121.74 L489.9 122.65 L490.39 123.53 L490.89 124.38 L491.38 125.19 L491.88 125.98 L492.37 126.74 L492.86 127.47 L493.36 128.18 L493.85 128.86 L494.35 129.52 L494.84 130.15 L495.34 130.77 L495.83 131.36 L496.32 131.94 L496.82 132.49 L497.31 133.03 L497.81 133.55 L498.3 134.06 L498.79 134.54 L499.29 135.01 L499.78 135.47 L500.28 135.91 L500.77 136.34 L501.26 136.76 L501.76 137.16 L502.25 137.55 L502.75 137.93 L503.24 138.29 L503.74 138.65 L504.23 139 L504.72 139.33 L505.22 139.66 L505.71 139.97 L506.21 140.28 L506.7 140.58 L507.19 140.87 L507.69 141.15 L508.18 141.43 L508.68 141.69 L509.17 141.95 L509.66 142.21 L510.16 142.45 L510.65 142.69 L511.15 142.92 L511.64 143.15 L512.14 143.37 L512.63 143.59 L513.12 143.8 L513.62 144 L514.11 144.2 L514.61 144.39 L515.1 144.58 L515.59 144.77 L516.09 144.95 L516.58 145.12 L517.08 145.29 L517.57 145.46 L518.06 145.62 L518.56 145.78 L519.05 145.94 L519.55 146.09 L520.04 146.24 L520.54 146.39 L521.03 146.53 L521.52 146.67 L522.02 146.8 L522.51 146.93 L523.01 147.06 L523.5 147.19 L523.99 147.31 L524.49 147.43 L524.98 147.55 L525.48 147.67 L525.97 147.78 L526.46 147.89 L526.96 148 L527.45 148.11 L527.95 148.21 L528.44 148.31 L528.94 148.41 L529.43 148.51 L529.92 148.61 L530.42 148.7 L530.91 148.79 L531.41 148.88 L531.9 148.97 L532.39 149.06 L532.89 149.14 L533.38 149.22 L533.88 149.31 L534.37 149.39 L534.86 149.46 L535.36 149.54 L535.85 149.62 L536.35 149.69 L536.84 149.76 L537.34 149.84 L537.83 149.91 L538.32 149.97 L538.82 150.04 L539.31 150.11 L539.81 150.17 L540.3 150.24" stroke="#ff8000"/>
</g>
<path d="M342.65 162.8 v3.15 M342.65 7.8 v3.15 M367.36 162.8 v3.15 M367.36 7.8 v3.15 M392.06 162.8 v3.15 M392.06 7.8 v3.15 M416.77 162.8 v3.15 M416.77 7.8 v3.15 M441.48 162.8 v3.15 M441.48 7.8 v3.15 M466.18 162.8 v3.15 M466.18 7.8 v3.15 M490.89 162.8 v3.15 M490.89 7.8 v3.15 M515.59 162.8 v3.15 M515.59 7.8 v3.15 M540.3 162.8 v3.15 M540.3 7.8 v3.15 M330.3 162.8 v1.85 M330.3 7.8 v1.85 M355.01 162.8 v1.85 M355.01 7.8 v1.85 M379.71 162.8 v1.85 M379.71 7.8 v1.85 M404.42 162.8 v1.85 M404.42 7.8 v1.85 M429.12 162.8 v1.85 M429.12 7.8 v1.85 M453.83 162.8 v1.85 M453.83 7.8 v1.85 M478.54 162.8 v1.85 M478.54 7.8 v1.85 M503.24 162.8 v1.85 M503.24 7.8 v1.85 M527.95 162.8 v1.85 M527.95 7.8 v1.85 M330.3 162.8 h-3.15 M540.3 162.8 h-3.15 M330.3 155.4 h-1.85 M540.3 155.4 h-1.85 M330.3 148 h-3.15 M540.3 148 h-3.15 M330.3 140.6 h-1.85 M540.3 140.6 h-1.85 M330.3 133.2 h-3.15 M540.3 133.2 h-3.15 M330.3 125.8 h-1.85 M540.3 125.8 h-1.85 M330.3 118.4 h-3.15 M540.3 118.4 h-3.15 M330.3 111 h-1.85 M540.3 111 h-1.85 M330.3 103.6 h-3.15 M540.3 103.6 h-3.15 M330.3 96.2 h-1.85 M540.3 96.2 h-1.85 M330.3 88.8 h-3.15 M540.3 88.8 h-3.15 M330.3 81.4 h-1.85 M540.3 81.4 h-1.85 M330.3 74 h-3.15 M540.3 74 h-3.15 M330.3 66.6 h-1.85 M540.3 66.6 h-1.85 M330.3 59.2 h-3.15 M540.3 59.2 h-3.15 M330.3 51.8 h-1.85 M540.3 51.8 h-1.85 M330.3 44.4 h-3.15 M540.3 44.4 h-3.15 M330.3 37 h-1.85 M540.3 37 h-1.85 M330.3 29.6 h-3.15 M540.3 29.6 h-3.15 M330.3 22.2 h-1.85 M540.3 22.2 h-1.85 M330.3 14.8 h-3.15 M540.3 14.8 h-3.15" stroke="#000" stroke-width="0.99" fill="none"/>
<rect x="330.3" y="7.8" width="210" height="155" fill="none" stroke="#000" stroke-width="1.1"/>
<text x="325.3" y="166.31" font-size="9.5" text-anchor="end">0.0</text>
<text x="325.3" y="151.51" font-size="9.5" text-anchor="end">0.1</text>
<text x="325.3" y="136.72" font-size="9.5" text-anchor="end">0.2</text>
<text x="325.3" y="121.92" font-size="9.5" text-anchor="end">0.3</text>
<text x="325.3" y="107.12" font-size="9.5" text-anchor="end">0.4</text>
<text x="325.3" y="92.32" font-size="9.5" text-anchor="end">0.5</text>
<text x="325.3" y="77.52" font-size="9.5" text-anchor="end">0.6</text>
<text x="325.3" y="62.72" font-size="9.5" text-anchor="end">0.7</text>
<text x="325.3" y="47.92" font-size="9.5" text-anchor="end">0.8</text>
<text x="325.3" y="33.11" font-size="9.5" text-anchor="end">0.9</text>
<text x="325.3" y="18.32" font-size="9.5" text-anchor="end">1.0</text>
<text x="342.65" y="176" font-size="9.5" text-anchor="middle">5</text>
<text x="367.36" y="176" font-size="9.5" text-anchor="middle">6</text>
<text x="392.06" y="176" font-size="9.5" text-anchor="middle">7</text>
<text x="416.77" y="176" font-size="9.5" text-anchor="middle">8</text>
<text x="441.48" y="176" font-size="9.5" text-anchor="middle">9</text>
<text x="466.18" y="176" font-size="9.5" text-anchor="middle">10</text>
<text x="490.89" y="176" font-size="9.5" text-anchor="middle">11</text>
<text x="515.59" y="176" font-size="9.5" text-anchor="middle">12</text>
<text x="540.3" y="176" font-size="9.5" text-anchor="middle">13</text>
<rect x="485" y="9.6" width="53.3" height="91" fill="#fff" stroke="#222" stroke-width="0.6"/>
<path d="M485.6 17.4 H508.3" stroke="#000000" stroke-width="2.1" fill="none"/>
<text x="509.6" y="19.9" font-size="7.7"><tspan font-style="italic">l</tspan>=2.2<tspan font-size="8.6">μm</tspan></text>
<path d="M485.6 30.2 H508.3" stroke="#ff0000" stroke-width="2.1" fill="none"/>
<text x="509.6" y="32.7" font-size="7.7"><tspan font-style="italic">l</tspan>=2.4<tspan font-size="8.6">μm</tspan></text>
<path d="M485.6 43 H508.3" stroke="#00ff00" stroke-width="2.1" fill="none"/>
<text x="509.6" y="45.5" font-size="7.7"><tspan font-style="italic">l</tspan>=2.6<tspan font-size="8.6">μm</tspan></text>
<path d="M485.6 55.8 H508.3" stroke="#0000ff" stroke-width="2.1" fill="none"/>
<text x="509.6" y="58.3" font-size="7.7"><tspan font-style="italic">l</tspan>=2.8<tspan font-size="8.6">μm</tspan></text>
<path d="M485.6 68.6 H508.3" stroke="#00ffff" stroke-width="2.1" fill="none"/>
<text x="509.6" y="71.1" font-size="7.7"><tspan font-style="italic">l</tspan>=3.0<tspan font-size="8.6">μm</tspan></text>
<path d="M485.6 81.4 H508.3" stroke="#ff00ff" stroke-width="2.1" fill="none"/>
<text x="509.6" y="83.9" font-size="7.7"><tspan font-style="italic">l</tspan>=3.2<tspan font-size="8.6">μm</tspan></text>
<path d="M485.6 94.2 H508.3" stroke="#ff8000" stroke-width="2.1" fill="none"/>
<text x="509.6" y="96.7" font-size="7.7"><tspan font-style="italic">l</tspan>=3.4<tspan font-size="8.6">μm</tspan></text>
<text y="192.3" font-size="13.15"><tspan x="389.8">Wavelength</tspan><tspan x="456.3" font-size="8.5">(</tspan><tspan x="459.5" font-size="12.5">μ</tspan><tspan x="466.9" font-size="13">m</tspan><tspan x="478.6" font-size="9.5">)</tspan></text>
<text transform="translate(307.2 84.6) rotate(-90)" font-size="12.75" text-anchor="middle">Absorption</text>
<text x="420" y="209.8" font-size="12.5" text-anchor="middle" style="font-weight:normal">(<tspan style="font-weight:bold">b</tspan>)</text>
</g>
<g id="pc">
<clipPath id="cc"><rect x="38.6" y="213.9" width="205.8" height="165.6"/></clipPath>
<g clip-path="url(#cc)" fill="none" stroke-width="2.6" stroke-linejoin="round">
<path d="M38.6 373.16 L39.11 373.13 L39.63 373.1 L40.14 373.07 L40.66 373.03 L41.17 373 L41.69 372.97 L42.2 372.93 L42.72 372.9 L43.23 372.86 L43.74 372.83 L44.26 372.79 L44.77 372.75 L45.29 372.71 L45.8 372.68 L46.32 372.64 L46.83 372.6 L47.35 372.56 L47.86 372.52 L48.38 372.48 L48.89 372.44 L49.4 372.4 L49.92 372.35 L50.43 372.31 L50.95 372.27 L51.46 372.22 L51.98 372.18 L52.49 372.13 L53.01 372.09 L53.52 372.04 L54.03 371.99 L54.55 371.94 L55.06 371.89 L55.58 371.84 L56.09 371.79 L56.61 371.74 L57.12 371.69 L57.64 371.64 L58.15 371.58 L58.67 371.53 L59.18 371.47 L59.69 371.42 L60.21 371.36 L60.72 371.3 L61.24 371.24 L61.75 371.18 L62.27 371.12 L62.78 371.06 L63.3 371 L63.81 370.93 L64.33 370.87 L64.84 370.8 L65.35 370.74 L65.87 370.67 L66.38 370.6 L66.9 370.53 L67.41 370.46 L67.93 370.38 L68.44 370.31 L68.96 370.23 L69.47 370.16 L69.98 370.08 L70.5 370 L71.01 369.92 L71.53 369.84 L72.04 369.75 L72.56 369.67 L73.07 369.58 L73.59 369.49 L74.1 369.4 L74.62 369.31 L75.13 369.22 L75.64 369.13 L76.16 369.03 L76.67 368.93 L77.19 368.83 L77.7 368.73 L78.22 368.63 L78.73 368.52 L79.25 368.41 L79.76 368.3 L80.27 368.19 L80.79 368.08 L81.3 367.96 L81.82 367.84 L82.33 367.72 L82.85 367.6 L83.36 367.47 L83.88 367.34 L84.39 367.21 L84.91 367.08 L85.42 366.94 L85.93 366.8 L86.45 366.66 L86.96 366.51 L87.48 366.36 L87.99 366.21 L88.51 366.06 L89.02 365.9 L89.54 365.74 L90.05 365.57 L90.56 365.4 L91.08 365.23 L91.59 365.05 L92.11 364.87 L92.62 364.69 L93.14 364.5 L93.65 364.31 L94.17 364.11 L94.68 363.91 L95.19 363.7 L95.71 363.49 L96.22 363.28 L96.74 363.06 L97.25 362.83 L97.77 362.6 L98.28 362.36 L98.8 362.12 L99.31 361.87 L99.83 361.61 L100.34 361.35 L100.85 361.08 L101.37 360.8 L101.88 360.52 L102.4 360.23 L102.91 359.94 L103.43 359.63 L103.94 359.32 L104.46 359 L104.97 358.67 L105.48 358.33 L106 357.98 L106.51 357.63 L107.03 357.26 L107.54 356.88 L108.06 356.5 L108.57 356.1 L109.09 355.69 L109.6 355.27 L110.12 354.84 L110.63 354.39 L111.14 353.93 L111.66 353.46 L112.17 352.98 L112.69 352.48 L113.2 351.97 L113.72 351.44 L114.23 350.89 L114.75 350.33 L115.26 349.75 L115.78 349.15 L116.29 348.54 L116.8 347.9 L117.32 347.25 L117.83 346.57 L118.35 345.88 L118.86 345.16 L119.38 344.42 L119.89 343.65 L120.41 342.86 L120.92 342.05 L121.43 341.2 L121.95 340.33 L122.46 339.43 L122.98 338.5 L123.49 337.54 L124.01 336.55 L124.52 335.52 L125.04 334.46 L125.55 333.36 L126.07 332.23 L126.58 331.05 L127.09 329.84 L127.61 328.58 L128.12 327.29 L128.64 325.94 L129.15 324.55 L129.67 323.12 L130.18 321.63 L130.7 320.1 L131.21 318.51 L131.72 316.87 L132.24 315.17 L132.75 313.42 L133.27 311.61 L133.78 309.74 L134.3 307.81 L134.81 305.81 L135.33 303.76 L135.84 301.65 L136.36 299.47 L136.87 297.23 L137.38 294.92 L137.9 292.55 L138.41 290.13 L138.93 287.64 L139.44 285.09 L139.96 282.49 L140.47 279.83 L140.99 277.13 L141.5 274.38 L142.01 271.59 L142.53 268.77 L143.04 265.93 L143.56 263.07 L144.07 260.2 L144.59 257.33 L145.1 254.47 L145.62 251.65 L146.13 248.86 L146.64 246.12 L147.16 243.45 L147.67 240.87 L148.19 238.39 L148.7 236.02 L149.22 233.79 L149.73 231.71 L150.25 229.8 L150.76 228.07 L151.28 226.53 L151.79 225.21 L152.3 224.11 L152.82 223.24 L153.33 222.62 L153.85 222.24 L154.36 222.12 L154.88 222.23 L155.39 222.56 L155.91 223.12 L156.42 223.89 L156.94 224.87 L157.45 226.05 L157.96 227.42 L158.48 228.98 L158.99 230.7 L159.51 232.57 L160.02 234.58 L160.54 236.73 L161.05 238.98 L161.57 241.34 L162.08 243.77 L162.59 246.28 L163.11 248.85 L163.62 251.46 L164.14 254.11 L164.65 256.78 L165.17 259.46 L165.68 262.14 L166.2 264.82 L166.71 267.48 L167.22 270.12 L167.74 272.73 L168.25 275.31 L168.77 277.86 L169.28 280.36 L169.8 282.81 L170.31 285.22 L170.83 287.57 L171.34 289.87 L171.86 292.12 L172.37 294.32 L172.88 296.46 L173.4 298.54 L173.91 300.57 L174.43 302.54 L174.94 304.45 L175.46 306.31 L175.97 308.12 L176.49 309.87 L177 311.57 L177.52 313.21 L178.03 314.81 L178.54 316.36 L179.06 317.86 L179.57 319.31 L180.09 320.72 L180.6 322.09 L181.12 323.41 L181.63 324.69 L182.15 325.93 L182.66 327.13 L183.17 328.29 L183.69 329.41 L184.2 330.5 L184.72 331.56 L185.23 332.58 L185.75 333.57 L186.26 334.53 L186.78 335.46 L187.29 336.36 L187.81 337.24 L188.32 338.08 L188.83 338.91 L189.35 339.7 L189.86 340.47 L190.38 341.22 L190.89 341.95 L191.41 342.65 L191.92 343.33 L192.44 344 L192.95 344.64 L193.46 345.26 L193.98 345.87 L194.49 346.46 L195.01 347.03 L195.52 347.59 L196.04 348.13 L196.55 348.65 L197.07 349.16 L197.58 349.66 L198.09 350.14 L198.61 350.61 L199.12 351.07 L199.64 351.51 L200.15 351.94 L200.67 352.36 L201.18 352.77 L201.7 353.17 L202.21 353.56 L202.73 353.94 L203.24 354.3 L203.75 354.66 L204.27 355.01 L204.78 355.35 L205.3 355.68 L205.81 356.01 L206.33 356.32 L206.84 356.63 L207.36 356.93 L207.87 357.22 L208.38 357.51 L208.9 357.79 L209.41 358.06 L209.93 358.32 L210.44 358.58 L210.96 358.84 L211.47 359.08 L211.99 359.33 L212.5 359.56 L213.02 359.79 L213.53 360.02 L214.04 360.24 L214.56 360.45 L215.07 360.66 L215.59 360.87 L216.1 361.07 L216.62 361.27 L217.13 361.46 L217.65 361.65 L218.16 361.83 L218.68 362.01 L219.19 362.19 L219.7 362.36 L220.22 362.53 L220.73 362.7 L221.25 362.86 L221.76 363.02 L222.28 363.17 L222.79 363.33 L223.31 363.48 L223.82 363.62 L224.33 363.77 L224.85 363.91 L225.36 364.05 L225.88 364.18 L226.39 364.31 L226.91 364.44 L227.42 364.57 L227.94 364.7 L228.45 364.82 L228.96 364.94 L229.48 365.06 L229.99 365.17 L230.51 365.29 L231.02 365.4 L231.54 365.51 L232.05 365.62 L232.57 365.72 L233.08 365.82 L233.6 365.93 L234.11 366.03 L234.62 366.12 L235.14 366.22 L235.65 366.32 L236.17 366.41 L236.68 366.5 L237.2 366.59 L237.71 366.68 L238.23 366.77 L238.74 366.85 L239.26 366.93 L239.77 367.02 L240.28 367.1 L240.8 367.18 L241.31 367.26 L241.83 367.33 L242.34 367.41 L242.86 367.48 L243.37 367.56 L243.89 367.63 L244.4 367.7" stroke="#515151"/>
<path d="M38.6 373.35 L39.11 373.32 L39.63 373.29 L40.14 373.26 L40.66 373.23 L41.17 373.2 L41.69 373.16 L42.2 373.13 L42.72 373.1 L43.23 373.06 L43.74 373.03 L44.26 373 L44.77 372.96 L45.29 372.92 L45.8 372.89 L46.32 372.85 L46.83 372.81 L47.35 372.78 L47.86 372.74 L48.38 372.7 L48.89 372.66 L49.4 372.62 L49.92 372.58 L50.43 372.54 L50.95 372.5 L51.46 372.45 L51.98 372.41 L52.49 372.37 L53.01 372.32 L53.52 372.28 L54.03 372.23 L54.55 372.19 L55.06 372.14 L55.58 372.09 L56.09 372.04 L56.61 371.99 L57.12 371.94 L57.64 371.89 L58.15 371.84 L58.67 371.79 L59.18 371.74 L59.69 371.68 L60.21 371.63 L60.72 371.57 L61.24 371.52 L61.75 371.46 L62.27 371.4 L62.78 371.34 L63.3 371.28 L63.81 371.22 L64.33 371.16 L64.84 371.09 L65.35 371.03 L65.87 370.96 L66.38 370.9 L66.9 370.83 L67.41 370.76 L67.93 370.69 L68.44 370.62 L68.96 370.55 L69.47 370.47 L69.98 370.4 L70.5 370.32 L71.01 370.25 L71.53 370.17 L72.04 370.09 L72.56 370 L73.07 369.92 L73.59 369.84 L74.1 369.75 L74.62 369.66 L75.13 369.57 L75.64 369.48 L76.16 369.39 L76.67 369.29 L77.19 369.2 L77.7 369.1 L78.22 369 L78.73 368.9 L79.25 368.79 L79.76 368.69 L80.27 368.58 L80.79 368.47 L81.3 368.36 L81.82 368.24 L82.33 368.12 L82.85 368 L83.36 367.88 L83.88 367.76 L84.39 367.63 L84.91 367.5 L85.42 367.37 L85.93 367.24 L86.45 367.1 L86.96 366.96 L87.48 366.81 L87.99 366.67 L88.51 366.52 L89.02 366.36 L89.54 366.21 L90.05 366.05 L90.56 365.88 L91.08 365.72 L91.59 365.55 L92.11 365.37 L92.62 365.19 L93.14 365.01 L93.65 364.82 L94.17 364.63 L94.68 364.44 L95.19 364.23 L95.71 364.03 L96.22 363.82 L96.74 363.6 L97.25 363.38 L97.77 363.16 L98.28 362.93 L98.8 362.69 L99.31 362.45 L99.83 362.2 L100.34 361.94 L100.85 361.68 L101.37 361.41 L101.88 361.14 L102.4 360.85 L102.91 360.56 L103.43 360.27 L103.94 359.96 L104.46 359.65 L104.97 359.33 L105.48 358.99 L106 358.65 L106.51 358.31 L107.03 357.95 L107.54 357.58 L108.06 357.2 L108.57 356.81 L109.09 356.41 L109.6 355.99 L110.12 355.57 L110.63 355.13 L111.14 354.68 L111.66 354.22 L112.17 353.74 L112.69 353.25 L113.2 352.75 L113.72 352.22 L114.23 351.69 L114.75 351.13 L115.26 350.56 L115.78 349.97 L116.29 349.37 L116.8 348.74 L117.32 348.09 L117.83 347.42 L118.35 346.74 L118.86 346.02 L119.38 345.29 L119.89 344.53 L120.41 343.75 L120.92 342.94 L121.43 342.1 L121.95 341.24 L122.46 340.34 L122.98 339.42 L123.49 338.46 L124.01 337.47 L124.52 336.45 L125.04 335.39 L125.55 334.3 L126.07 333.16 L126.58 331.99 L127.09 330.78 L127.61 329.53 L128.12 328.23 L128.64 326.88 L129.15 325.49 L129.67 324.06 L130.18 322.57 L130.7 321.03 L131.21 319.44 L131.72 317.79 L132.24 316.09 L132.75 314.33 L133.27 312.51 L133.78 310.64 L134.3 308.7 L134.81 306.7 L135.33 304.64 L135.84 302.52 L136.36 300.34 L136.87 298.09 L137.38 295.78 L137.9 293.41 L138.41 290.98 L138.93 288.49 L139.44 285.95 L139.96 283.35 L140.47 280.71 L140.99 278.02 L141.5 275.3 L142.01 272.54 L142.53 269.76 L143.04 266.96 L143.56 264.16 L144.07 261.35 L144.59 258.57 L145.1 255.81 L145.62 253.09 L146.13 250.43 L146.64 247.84 L147.16 245.33 L147.67 242.93 L148.19 240.65 L148.7 238.5 L149.22 236.51 L149.73 234.69 L150.25 233.05 L150.76 231.62 L151.28 230.4 L151.79 229.4 L152.3 228.63 L152.82 228.11 L153.33 227.84 L153.85 227.82 L154.36 228.08 L154.88 228.62 L155.39 229.45 L155.91 230.55 L156.42 231.9 L156.94 233.5 L157.45 235.33 L157.96 237.36 L158.48 239.58 L158.99 241.96 L159.51 244.49 L160.02 247.15 L160.54 249.91 L161.05 252.75 L161.57 255.65 L162.08 258.6 L162.59 261.58 L163.11 264.58 L163.62 267.57 L164.14 270.55 L164.65 273.51 L165.17 276.43 L165.68 279.31 L166.2 282.14 L166.71 284.92 L167.22 287.63 L167.74 290.28 L168.25 292.87 L168.77 295.38 L169.28 297.82 L169.8 300.19 L170.31 302.49 L170.83 304.72 L171.34 306.87 L171.86 308.96 L172.37 310.97 L172.88 312.91 L173.4 314.79 L173.91 316.6 L174.43 318.35 L174.94 320.03 L175.46 321.66 L175.97 323.22 L176.49 324.73 L177 326.18 L177.52 327.58 L178.03 328.93 L178.54 330.23 L179.06 331.49 L179.57 332.69 L180.09 333.86 L180.6 334.98 L181.12 336.06 L181.63 337.1 L182.15 338.11 L182.66 339.08 L183.17 340.01 L183.69 340.91 L184.2 341.78 L184.72 342.62 L185.23 343.43 L185.75 344.22 L186.26 344.97 L186.78 345.7 L187.29 346.41 L187.81 347.09 L188.32 347.75 L188.83 348.39 L189.35 349 L189.86 349.6 L190.38 350.18 L190.89 350.74 L191.41 351.28 L191.92 351.8 L192.44 352.31 L192.95 352.8 L193.46 353.27 L193.98 353.73 L194.49 354.18 L195.01 354.61 L195.52 355.03 L196.04 355.44 L196.55 355.84 L197.07 356.22 L197.58 356.59 L198.09 356.96 L198.61 357.31 L199.12 357.65 L199.64 357.98 L200.15 358.3 L200.67 358.62 L201.18 358.92 L201.7 359.22 L202.21 359.51 L202.73 359.79 L203.24 360.06 L203.75 360.33 L204.27 360.58 L204.78 360.84 L205.3 361.08 L205.81 361.32 L206.33 361.55 L206.84 361.78 L207.36 362 L207.87 362.22 L208.38 362.43 L208.9 362.63 L209.41 362.83 L209.93 363.03 L210.44 363.22 L210.96 363.4 L211.47 363.58 L211.99 363.76 L212.5 363.93 L213.02 364.1 L213.53 364.27 L214.04 364.43 L214.56 364.59 L215.07 364.74 L215.59 364.89 L216.1 365.04 L216.62 365.18 L217.13 365.32 L217.65 365.46 L218.16 365.59 L218.68 365.72 L219.19 365.85 L219.7 365.98 L220.22 366.1 L220.73 366.22 L221.25 366.34 L221.76 366.45 L222.28 366.57 L222.79 366.68 L223.31 366.79 L223.82 366.89 L224.33 367 L224.85 367.1 L225.36 367.2 L225.88 367.3 L226.39 367.39 L226.91 367.49 L227.42 367.58 L227.94 367.67 L228.45 367.76 L228.96 367.85 L229.48 367.93 L229.99 368.01 L230.51 368.1 L231.02 368.18 L231.54 368.26 L232.05 368.33 L232.57 368.41 L233.08 368.49 L233.6 368.56 L234.11 368.63 L234.62 368.7 L235.14 368.77 L235.65 368.84 L236.17 368.91 L236.68 368.97 L237.2 369.04 L237.71 369.1 L238.23 369.16 L238.74 369.23 L239.26 369.29 L239.77 369.35 L240.28 369.4 L240.8 369.46 L241.31 369.52 L241.83 369.57 L242.34 369.63 L242.86 369.68 L243.37 369.73 L243.89 369.79 L244.4 369.84" stroke="#f14040"/>
<path d="M38.6 373.4 L39.11 373.37 L39.63 373.34 L40.14 373.31 L40.66 373.29 L41.17 373.26 L41.69 373.23 L42.2 373.2 L42.72 373.17 L43.23 373.14 L43.74 373.11 L44.26 373.08 L44.77 373.04 L45.29 373.01 L45.8 372.98 L46.32 372.95 L46.83 372.91 L47.35 372.88 L47.86 372.84 L48.38 372.81 L48.89 372.77 L49.4 372.74 L49.92 372.7 L50.43 372.67 L50.95 372.63 L51.46 372.59 L51.98 372.55 L52.49 372.51 L53.01 372.47 L53.52 372.43 L54.03 372.39 L54.55 372.35 L55.06 372.31 L55.58 372.27 L56.09 372.22 L56.61 372.18 L57.12 372.13 L57.64 372.09 L58.15 372.04 L58.67 371.99 L59.18 371.95 L59.69 371.9 L60.21 371.85 L60.72 371.8 L61.24 371.75 L61.75 371.7 L62.27 371.65 L62.78 371.59 L63.3 371.54 L63.81 371.48 L64.33 371.43 L64.84 371.37 L65.35 371.31 L65.87 371.25 L66.38 371.2 L66.9 371.13 L67.41 371.07 L67.93 371.01 L68.44 370.95 L68.96 370.88 L69.47 370.82 L69.98 370.75 L70.5 370.68 L71.01 370.61 L71.53 370.54 L72.04 370.47 L72.56 370.39 L73.07 370.32 L73.59 370.24 L74.1 370.17 L74.62 370.09 L75.13 370.01 L75.64 369.93 L76.16 369.84 L76.67 369.76 L77.19 369.67 L77.7 369.58 L78.22 369.49 L78.73 369.4 L79.25 369.31 L79.76 369.21 L80.27 369.12 L80.79 369.02 L81.3 368.92 L81.82 368.81 L82.33 368.71 L82.85 368.6 L83.36 368.49 L83.88 368.38 L84.39 368.27 L84.91 368.15 L85.42 368.03 L85.93 367.91 L86.45 367.79 L86.96 367.66 L87.48 367.53 L87.99 367.4 L88.51 367.26 L89.02 367.13 L89.54 366.98 L90.05 366.84 L90.56 366.69 L91.08 366.54 L91.59 366.39 L92.11 366.23 L92.62 366.07 L93.14 365.91 L93.65 365.74 L94.17 365.57 L94.68 365.39 L95.19 365.21 L95.71 365.02 L96.22 364.84 L96.74 364.64 L97.25 364.44 L97.77 364.24 L98.28 364.03 L98.8 363.82 L99.31 363.6 L99.83 363.37 L100.34 363.14 L100.85 362.91 L101.37 362.66 L101.88 362.41 L102.4 362.16 L102.91 361.9 L103.43 361.63 L103.94 361.35 L104.46 361.07 L104.97 360.78 L105.48 360.48 L106 360.17 L106.51 359.85 L107.03 359.53 L107.54 359.19 L108.06 358.85 L108.57 358.5 L109.09 358.13 L109.6 357.76 L110.12 357.37 L110.63 356.97 L111.14 356.57 L111.66 356.14 L112.17 355.71 L112.69 355.26 L113.2 354.8 L113.72 354.33 L114.23 353.84 L114.75 353.33 L115.26 352.81 L115.78 352.27 L116.29 351.71 L116.8 351.14 L117.32 350.55 L117.83 349.94 L118.35 349.3 L118.86 348.65 L119.38 347.97 L119.89 347.27 L120.41 346.55 L120.92 345.81 L121.43 345.03 L121.95 344.23 L122.46 343.41 L122.98 342.55 L123.49 341.66 L124.01 340.74 L124.52 339.79 L125.04 338.8 L125.55 337.78 L126.07 336.72 L126.58 335.63 L127.09 334.49 L127.61 333.31 L128.12 332.09 L128.64 330.82 L129.15 329.5 L129.67 328.14 L130.18 326.73 L130.7 325.26 L131.21 323.74 L131.72 322.17 L132.24 320.53 L132.75 318.84 L133.27 317.09 L133.78 315.27 L134.3 313.39 L134.81 311.44 L135.33 309.42 L135.84 307.33 L136.36 305.18 L136.87 302.95 L137.38 300.65 L137.9 298.28 L138.41 295.84 L138.93 293.33 L139.44 290.75 L139.96 288.1 L140.47 285.39 L140.99 282.62 L141.5 279.79 L142.01 276.9 L142.53 273.97 L143.04 271.01 L143.56 268.01 L144.07 265 L144.59 261.98 L145.1 258.96 L145.62 255.96 L146.13 253 L146.64 250.09 L147.16 247.24 L147.67 244.49 L148.19 241.84 L148.7 239.32 L149.22 236.94 L149.73 234.74 L150.25 232.72 L150.76 230.92 L151.28 229.33 L151.79 227.99 L152.3 226.91 L152.82 226.09 L153.33 225.55 L153.85 225.29 L154.36 225.31 L154.88 225.56 L155.39 226.04 L155.91 226.74 L156.42 227.65 L156.94 228.77 L157.45 230.09 L157.96 231.6 L158.48 233.28 L158.99 235.12 L159.51 237.11 L160.02 239.24 L160.54 241.48 L161.05 243.82 L161.57 246.25 L162.08 248.76 L162.59 251.33 L163.11 253.94 L163.62 256.59 L164.14 259.27 L164.65 261.96 L165.17 264.65 L165.68 267.33 L166.2 270 L166.71 272.65 L167.22 275.27 L167.74 277.85 L168.25 280.4 L168.77 282.91 L169.28 285.36 L169.8 287.77 L170.31 290.13 L170.83 292.43 L171.34 294.68 L171.86 296.87 L172.37 299 L172.88 301.08 L173.4 303.1 L173.91 305.06 L174.43 306.97 L174.94 308.82 L175.46 310.62 L175.97 312.36 L176.49 314.04 L177 315.68 L177.52 317.27 L178.03 318.8 L178.54 320.29 L179.06 321.73 L179.57 323.12 L180.09 324.47 L180.6 325.78 L181.12 327.04 L181.63 328.26 L182.15 329.45 L182.66 330.59 L183.17 331.7 L183.69 332.78 L184.2 333.82 L184.72 334.83 L185.23 335.8 L185.75 336.74 L186.26 337.66 L186.78 338.54 L187.29 339.4 L187.81 340.23 L188.32 341.04 L188.83 341.82 L189.35 342.58 L189.86 343.31 L190.38 344.02 L190.89 344.71 L191.41 345.38 L191.92 346.03 L192.44 346.66 L192.95 347.27 L193.46 347.86 L193.98 348.44 L194.49 349 L195.01 349.54 L195.52 350.07 L196.04 350.58 L196.55 351.08 L197.07 351.56 L197.58 352.03 L198.09 352.49 L198.61 352.93 L199.12 353.37 L199.64 353.79 L200.15 354.2 L200.67 354.6 L201.18 354.98 L201.7 355.36 L202.21 355.73 L202.73 356.09 L203.24 356.44 L203.75 356.77 L204.27 357.11 L204.78 357.43 L205.3 357.74 L205.81 358.05 L206.33 358.35 L206.84 358.64 L207.36 358.92 L207.87 359.2 L208.38 359.47 L208.9 359.74 L209.41 359.99 L209.93 360.24 L210.44 360.49 L210.96 360.73 L211.47 360.96 L211.99 361.19 L212.5 361.42 L213.02 361.64 L213.53 361.85 L214.04 362.06 L214.56 362.26 L215.07 362.46 L215.59 362.66 L216.1 362.85 L216.62 363.03 L217.13 363.22 L217.65 363.39 L218.16 363.57 L218.68 363.74 L219.19 363.91 L219.7 364.07 L220.22 364.23 L220.73 364.39 L221.25 364.54 L221.76 364.69 L222.28 364.84 L222.79 364.98 L223.31 365.13 L223.82 365.26 L224.33 365.4 L224.85 365.53 L225.36 365.66 L225.88 365.79 L226.39 365.92 L226.91 366.04 L227.42 366.16 L227.94 366.28 L228.45 366.4 L228.96 366.51 L229.48 366.62 L229.99 366.73 L230.51 366.84 L231.02 366.95 L231.54 367.05 L232.05 367.15 L232.57 367.25 L233.08 367.35 L233.6 367.45 L234.11 367.54 L234.62 367.63 L235.14 367.73 L235.65 367.82 L236.17 367.9 L236.68 367.99 L237.2 368.08 L237.71 368.16 L238.23 368.24 L238.74 368.32 L239.26 368.4 L239.77 368.48 L240.28 368.56 L240.8 368.63 L241.31 368.71 L241.83 368.78 L242.34 368.85 L242.86 368.92 L243.37 368.99 L243.89 369.06 L244.4 369.13" stroke="#1a6fdf"/>
<path d="M38.6 373.28 L39.11 373.25 L39.63 373.21 L40.14 373.18 L40.66 373.15 L41.17 373.12 L41.69 373.08 L42.2 373.05 L42.72 373.02 L43.23 372.98 L43.74 372.95 L44.26 372.91 L44.77 372.88 L45.29 372.84 L45.8 372.8 L46.32 372.77 L46.83 372.73 L47.35 372.69 L47.86 372.65 L48.38 372.61 L48.89 372.57 L49.4 372.53 L49.92 372.49 L50.43 372.45 L50.95 372.41 L51.46 372.36 L51.98 372.32 L52.49 372.27 L53.01 372.23 L53.52 372.18 L54.03 372.14 L54.55 372.09 L55.06 372.04 L55.58 372 L56.09 371.95 L56.61 371.9 L57.12 371.85 L57.64 371.79 L58.15 371.74 L58.67 371.69 L59.18 371.64 L59.69 371.58 L60.21 371.53 L60.72 371.47 L61.24 371.41 L61.75 371.35 L62.27 371.29 L62.78 371.24 L63.3 371.17 L63.81 371.11 L64.33 371.05 L64.84 370.99 L65.35 370.92 L65.87 370.85 L66.38 370.79 L66.9 370.72 L67.41 370.65 L67.93 370.58 L68.44 370.51 L68.96 370.43 L69.47 370.36 L69.98 370.28 L70.5 370.21 L71.01 370.13 L71.53 370.05 L72.04 369.97 L72.56 369.88 L73.07 369.8 L73.59 369.71 L74.1 369.63 L74.62 369.54 L75.13 369.45 L75.64 369.36 L76.16 369.26 L76.67 369.17 L77.19 369.07 L77.7 368.97 L78.22 368.87 L78.73 368.77 L79.25 368.66 L79.76 368.56 L80.27 368.45 L80.79 368.34 L81.3 368.22 L81.82 368.11 L82.33 367.99 L82.85 367.87 L83.36 367.75 L83.88 367.62 L84.39 367.49 L84.91 367.36 L85.42 367.23 L85.93 367.1 L86.45 366.96 L86.96 366.82 L87.48 366.67 L87.99 366.52 L88.51 366.37 L89.02 366.22 L89.54 366.06 L90.05 365.9 L90.56 365.74 L91.08 365.57 L91.59 365.4 L92.11 365.22 L92.62 365.04 L93.14 364.86 L93.65 364.67 L94.17 364.48 L94.68 364.29 L95.19 364.08 L95.71 363.88 L96.22 363.67 L96.74 363.45 L97.25 363.23 L97.77 363.01 L98.28 362.78 L98.8 362.54 L99.31 362.3 L99.83 362.05 L100.34 361.79 L100.85 361.53 L101.37 361.26 L101.88 360.99 L102.4 360.7 L102.91 360.41 L103.43 360.12 L103.94 359.81 L104.46 359.5 L104.97 359.18 L105.48 358.85 L106 358.51 L106.51 358.16 L107.03 357.8 L107.54 357.44 L108.06 357.06 L108.57 356.67 L109.09 356.27 L109.6 355.86 L110.12 355.44 L110.63 355 L111.14 354.56 L111.66 354.1 L112.17 353.62 L112.69 353.14 L113.2 352.63 L113.72 352.12 L114.23 351.58 L114.75 351.03 L115.26 350.47 L115.78 349.88 L116.29 349.28 L116.8 348.66 L117.32 348.02 L117.83 347.36 L118.35 346.68 L118.86 345.97 L119.38 345.25 L119.89 344.5 L120.41 343.72 L120.92 342.92 L121.43 342.09 L121.95 341.24 L122.46 340.35 L122.98 339.44 L123.49 338.5 L124.01 337.52 L124.52 336.51 L125.04 335.47 L125.55 334.39 L126.07 333.27 L126.58 332.11 L127.09 330.92 L127.61 329.68 L128.12 328.4 L128.64 327.07 L129.15 325.7 L129.67 324.28 L130.18 322.82 L130.7 321.3 L131.21 319.72 L131.72 318.1 L132.24 316.42 L132.75 314.68 L133.27 312.88 L133.78 311.03 L134.3 309.11 L134.81 307.13 L135.33 305.09 L135.84 302.98 L136.36 300.81 L136.87 298.58 L137.38 296.28 L137.9 293.91 L138.41 291.49 L138.93 289 L139.44 286.44 L139.96 283.84 L140.47 281.17 L140.99 278.45 L141.5 275.69 L142.01 272.89 L142.53 270.04 L143.04 267.17 L143.56 264.28 L144.07 261.38 L144.59 258.48 L145.1 255.59 L145.62 252.72 L146.13 249.89 L146.64 247.11 L147.16 244.39 L147.67 241.76 L148.19 239.23 L148.7 236.82 L149.22 234.54 L149.73 232.42 L150.25 230.46 L150.76 228.69 L151.28 227.12 L151.79 225.76 L152.3 224.63 L152.82 223.75 L153.33 223.11 L153.85 222.72 L154.36 222.59 L154.88 222.71 L155.39 223.06 L155.91 223.65 L156.42 224.46 L156.94 225.5 L157.45 226.74 L157.96 228.19 L158.48 229.82 L158.99 231.63 L159.51 233.59 L160.02 235.7 L160.54 237.94 L161.05 240.3 L161.57 242.75 L162.08 245.29 L162.59 247.9 L163.11 250.56 L163.62 253.26 L164.14 256 L164.65 258.75 L165.17 261.51 L165.68 264.26 L166.2 267 L166.71 269.73 L167.22 272.42 L167.74 275.08 L168.25 277.71 L168.77 280.29 L169.28 282.82 L169.8 285.3 L170.31 287.73 L170.83 290.11 L171.34 292.42 L171.86 294.68 L172.37 296.88 L172.88 299.02 L173.4 301.11 L173.91 303.13 L174.43 305.09 L174.94 307 L175.46 308.85 L175.97 310.64 L176.49 312.38 L177 314.06 L177.52 315.69 L178.03 317.27 L178.54 318.79 L179.06 320.27 L179.57 321.7 L180.09 323.09 L180.6 324.43 L181.12 325.73 L181.63 326.98 L182.15 328.2 L182.66 329.37 L183.17 330.51 L183.69 331.61 L184.2 332.67 L184.72 333.7 L185.23 334.7 L185.75 335.66 L186.26 336.6 L186.78 337.5 L187.29 338.38 L187.81 339.23 L188.32 340.05 L188.83 340.85 L189.35 341.62 L189.86 342.37 L190.38 343.09 L190.89 343.8 L191.41 344.48 L191.92 345.14 L192.44 345.78 L192.95 346.4 L193.46 347 L193.98 347.59 L194.49 348.16 L195.01 348.71 L195.52 349.25 L196.04 349.77 L196.55 350.27 L197.07 350.77 L197.58 351.24 L198.09 351.71 L198.61 352.16 L199.12 352.6 L199.64 353.02 L200.15 353.44 L200.67 353.84 L201.18 354.24 L201.7 354.62 L202.21 354.99 L202.73 355.35 L203.24 355.71 L203.75 356.05 L204.27 356.39 L204.78 356.71 L205.3 357.03 L205.81 357.34 L206.33 357.64 L206.84 357.94 L207.36 358.23 L207.87 358.51 L208.38 358.78 L208.9 359.05 L209.41 359.31 L209.93 359.56 L210.44 359.81 L210.96 360.05 L211.47 360.29 L211.99 360.52 L212.5 360.74 L213.02 360.96 L213.53 361.18 L214.04 361.39 L214.56 361.6 L215.07 361.8 L215.59 361.99 L216.1 362.19 L216.62 362.37 L217.13 362.56 L217.65 362.74 L218.16 362.91 L218.68 363.09 L219.19 363.26 L219.7 363.42 L220.22 363.58 L220.73 363.74 L221.25 363.9 L221.76 364.05 L222.28 364.2 L222.79 364.34 L223.31 364.48 L223.82 364.62 L224.33 364.76 L224.85 364.89 L225.36 365.03 L225.88 365.15 L226.39 365.28 L226.91 365.4 L227.42 365.53 L227.94 365.65 L228.45 365.76 L228.96 365.88 L229.48 365.99 L229.99 366.1 L230.51 366.21 L231.02 366.31 L231.54 366.42 L232.05 366.52 L232.57 366.62 L233.08 366.72 L233.6 366.82 L234.11 366.91 L234.62 367.01 L235.14 367.1 L235.65 367.19 L236.17 367.28 L236.68 367.36 L237.2 367.45 L237.71 367.53 L238.23 367.62 L238.74 367.7 L239.26 367.78 L239.77 367.85 L240.28 367.93 L240.8 368.01 L241.31 368.08 L241.83 368.16 L242.34 368.23 L242.86 368.3 L243.37 368.37 L243.89 368.44 L244.4 368.5" stroke="#37ad6b"/>
<path d="M38.6 373.16 L39.11 373.12 L39.63 373.09 L40.14 373.06 L40.66 373.03 L41.17 372.99 L41.69 372.96 L42.2 372.92 L42.72 372.89 L43.23 372.85 L43.74 372.82 L44.26 372.78 L44.77 372.74 L45.29 372.71 L45.8 372.67 L46.32 372.63 L46.83 372.59 L47.35 372.55 L47.86 372.51 L48.38 372.47 L48.89 372.43 L49.4 372.39 L49.92 372.34 L50.43 372.3 L50.95 372.26 L51.46 372.21 L51.98 372.17 L52.49 372.12 L53.01 372.08 L53.52 372.03 L54.03 371.98 L54.55 371.93 L55.06 371.88 L55.58 371.83 L56.09 371.78 L56.61 371.73 L57.12 371.68 L57.64 371.63 L58.15 371.57 L58.67 371.52 L59.18 371.46 L59.69 371.41 L60.21 371.35 L60.72 371.29 L61.24 371.23 L61.75 371.17 L62.27 371.11 L62.78 371.05 L63.3 370.99 L63.81 370.92 L64.33 370.86 L64.84 370.79 L65.35 370.72 L65.87 370.66 L66.38 370.59 L66.9 370.52 L67.41 370.44 L67.93 370.37 L68.44 370.3 L68.96 370.22 L69.47 370.14 L69.98 370.07 L70.5 369.99 L71.01 369.91 L71.53 369.82 L72.04 369.74 L72.56 369.65 L73.07 369.57 L73.59 369.48 L74.1 369.39 L74.62 369.3 L75.13 369.21 L75.64 369.11 L76.16 369.01 L76.67 368.92 L77.19 368.81 L77.7 368.71 L78.22 368.61 L78.73 368.5 L79.25 368.39 L79.76 368.28 L80.27 368.17 L80.79 368.06 L81.3 367.94 L81.82 367.82 L82.33 367.7 L82.85 367.58 L83.36 367.45 L83.88 367.32 L84.39 367.19 L84.91 367.06 L85.42 366.92 L85.93 366.78 L86.45 366.64 L86.96 366.49 L87.48 366.34 L87.99 366.19 L88.51 366.03 L89.02 365.88 L89.54 365.71 L90.05 365.55 L90.56 365.38 L91.08 365.21 L91.59 365.03 L92.11 364.85 L92.62 364.67 L93.14 364.48 L93.65 364.28 L94.17 364.09 L94.68 363.88 L95.19 363.68 L95.71 363.47 L96.22 363.25 L96.74 363.03 L97.25 362.8 L97.77 362.57 L98.28 362.33 L98.8 362.09 L99.31 361.84 L99.83 361.58 L100.34 361.32 L100.85 361.05 L101.37 360.77 L101.88 360.49 L102.4 360.2 L102.91 359.9 L103.43 359.6 L103.94 359.28 L104.46 358.96 L104.97 358.63 L105.48 358.29 L106 357.94 L106.51 357.59 L107.03 357.22 L107.54 356.84 L108.06 356.45 L108.57 356.06 L109.09 355.65 L109.6 355.23 L110.12 354.79 L110.63 354.35 L111.14 353.89 L111.66 353.42 L112.17 352.93 L112.69 352.43 L113.2 351.91 L113.72 351.38 L114.23 350.84 L114.75 350.27 L115.26 349.69 L115.78 349.1 L116.29 348.48 L116.8 347.84 L117.32 347.19 L117.83 346.51 L118.35 345.82 L118.86 345.1 L119.38 344.35 L119.89 343.59 L120.41 342.79 L120.92 341.98 L121.43 341.13 L121.95 340.26 L122.46 339.36 L122.98 338.42 L123.49 337.46 L124.01 336.47 L124.52 335.44 L125.04 334.37 L125.55 333.27 L126.07 332.14 L126.58 330.96 L127.09 329.74 L127.61 328.49 L128.12 327.19 L128.64 325.84 L129.15 324.45 L129.67 323.01 L130.18 321.52 L130.7 319.98 L131.21 318.39 L131.72 316.74 L132.24 315.04 L132.75 313.29 L133.27 311.47 L133.78 309.6 L134.3 307.66 L134.81 305.67 L135.33 303.61 L135.84 301.49 L136.36 299.31 L136.87 297.06 L137.38 294.75 L137.9 292.38 L138.41 289.95 L138.93 287.46 L139.44 284.9 L139.96 282.3 L140.47 279.63 L140.99 276.93 L141.5 274.17 L142.01 271.38 L142.53 268.55 L143.04 265.7 L143.56 262.83 L144.07 259.96 L144.59 257.08 L145.1 254.22 L145.62 251.39 L146.13 248.6 L146.64 245.85 L147.16 243.18 L147.67 240.59 L148.19 238.11 L148.7 235.74 L149.22 233.5 L149.73 231.41 L150.25 229.5 L150.76 227.76 L151.28 226.23 L151.79 224.9 L152.3 223.8 L152.82 222.93 L153.33 222.3 L153.85 221.93 L154.36 221.8 L154.88 221.91 L155.39 222.25 L155.91 222.81 L156.42 223.58 L156.94 224.56 L157.45 225.74 L157.96 227.12 L158.48 228.67 L158.99 230.4 L159.51 232.28 L160.02 234.29 L160.54 236.44 L161.05 238.7 L161.57 241.06 L162.08 243.5 L162.59 246.02 L163.11 248.59 L163.62 251.21 L164.14 253.86 L164.65 256.54 L165.17 259.22 L165.68 261.91 L166.2 264.59 L166.71 267.26 L167.22 269.91 L167.74 272.52 L168.25 275.11 L168.77 277.66 L169.28 280.16 L169.8 282.62 L170.31 285.03 L170.83 287.39 L171.34 289.7 L171.86 291.95 L172.37 294.15 L172.88 296.3 L173.4 298.38 L173.91 300.41 L174.43 302.39 L174.94 304.31 L175.46 306.17 L175.97 307.98 L176.49 309.73 L177 311.44 L177.52 313.09 L178.03 314.69 L178.54 316.24 L179.06 317.74 L179.57 319.2 L180.09 320.61 L180.6 321.98 L181.12 323.3 L181.63 324.58 L182.15 325.83 L182.66 327.03 L183.17 328.19 L183.69 329.32 L184.2 330.41 L184.72 331.47 L185.23 332.5 L185.75 333.49 L186.26 334.45 L186.78 335.38 L187.29 336.29 L187.81 337.16 L188.32 338.01 L188.83 338.83 L189.35 339.63 L189.86 340.4 L190.38 341.15 L190.89 341.88 L191.41 342.58 L191.92 343.27 L192.44 343.93 L192.95 344.58 L193.46 345.2 L193.98 345.81 L194.49 346.4 L195.01 346.98 L195.52 347.53 L196.04 348.07 L196.55 348.6 L197.07 349.11 L197.58 349.61 L198.09 350.09 L198.61 350.56 L199.12 351.02 L199.64 351.46 L200.15 351.9 L200.67 352.32 L201.18 352.73 L201.7 353.13 L202.21 353.51 L202.73 353.89 L203.24 354.26 L203.75 354.62 L204.27 354.97 L204.78 355.31 L205.3 355.64 L205.81 355.97 L206.33 356.28 L206.84 356.59 L207.36 356.89 L207.87 357.19 L208.38 357.47 L208.9 357.75 L209.41 358.02 L209.93 358.29 L210.44 358.55 L210.96 358.8 L211.47 359.05 L211.99 359.29 L212.5 359.53 L213.02 359.76 L213.53 359.99 L214.04 360.21 L214.56 360.42 L215.07 360.64 L215.59 360.84 L216.1 361.04 L216.62 361.24 L217.13 361.43 L217.65 361.62 L218.16 361.81 L218.68 361.99 L219.19 362.16 L219.7 362.34 L220.22 362.51 L220.73 362.67 L221.25 362.84 L221.76 363 L222.28 363.15 L222.79 363.3 L223.31 363.45 L223.82 363.6 L224.33 363.75 L224.85 363.89 L225.36 364.02 L225.88 364.16 L226.39 364.29 L226.91 364.42 L227.42 364.55 L227.94 364.68 L228.45 364.8 L228.96 364.92 L229.48 365.04 L229.99 365.15 L230.51 365.27 L231.02 365.38 L231.54 365.49 L232.05 365.6 L232.57 365.7 L233.08 365.81 L233.6 365.91 L234.11 366.01 L234.62 366.11 L235.14 366.2 L235.65 366.3 L236.17 366.39 L236.68 366.48 L237.2 366.57 L237.71 366.66 L238.23 366.75 L238.74 366.84 L239.26 366.92 L239.77 367 L240.28 367.08 L240.8 367.16 L241.31 367.24 L241.83 367.32 L242.34 367.4 L242.86 367.47 L243.37 367.54 L243.89 367.62 L244.4 367.69" stroke="#b177de"/>
<path d="M38.6 373.17 L39.11 373.14 L39.63 373.1 L40.14 373.07 L40.66 373.04 L41.17 373.01 L41.69 372.97 L42.2 372.94 L42.72 372.9 L43.23 372.87 L43.74 372.83 L44.26 372.79 L44.77 372.76 L45.29 372.72 L45.8 372.68 L46.32 372.64 L46.83 372.6 L47.35 372.57 L47.86 372.53 L48.38 372.48 L48.89 372.44 L49.4 372.4 L49.92 372.36 L50.43 372.32 L50.95 372.27 L51.46 372.23 L51.98 372.18 L52.49 372.14 L53.01 372.09 L53.52 372.05 L54.03 372 L54.55 371.95 L55.06 371.9 L55.58 371.85 L56.09 371.8 L56.61 371.75 L57.12 371.7 L57.64 371.64 L58.15 371.59 L58.67 371.54 L59.18 371.48 L59.69 371.43 L60.21 371.37 L60.72 371.31 L61.24 371.25 L61.75 371.19 L62.27 371.13 L62.78 371.07 L63.3 371.01 L63.81 370.94 L64.33 370.88 L64.84 370.81 L65.35 370.75 L65.87 370.68 L66.38 370.61 L66.9 370.54 L67.41 370.47 L67.93 370.39 L68.44 370.32 L68.96 370.25 L69.47 370.17 L69.98 370.09 L70.5 370.01 L71.01 369.93 L71.53 369.85 L72.04 369.77 L72.56 369.68 L73.07 369.6 L73.59 369.51 L74.1 369.42 L74.62 369.33 L75.13 369.23 L75.64 369.14 L76.16 369.04 L76.67 368.95 L77.19 368.85 L77.7 368.74 L78.22 368.64 L78.73 368.54 L79.25 368.43 L79.76 368.32 L80.27 368.21 L80.79 368.09 L81.3 367.98 L81.82 367.86 L82.33 367.74 L82.85 367.61 L83.36 367.49 L83.88 367.36 L84.39 367.23 L84.91 367.1 L85.42 366.96 L85.93 366.82 L86.45 366.68 L86.96 366.53 L87.48 366.39 L87.99 366.23 L88.51 366.08 L89.02 365.92 L89.54 365.76 L90.05 365.6 L90.56 365.43 L91.08 365.26 L91.59 365.08 L92.11 364.9 L92.62 364.72 L93.14 364.53 L93.65 364.34 L94.17 364.14 L94.68 363.94 L95.19 363.73 L95.71 363.52 L96.22 363.31 L96.74 363.09 L97.25 362.86 L97.77 362.63 L98.28 362.39 L98.8 362.15 L99.31 361.9 L99.83 361.65 L100.34 361.39 L100.85 361.12 L101.37 360.85 L101.88 360.56 L102.4 360.28 L102.91 359.98 L103.43 359.68 L103.94 359.36 L104.46 359.04 L104.97 358.72 L105.48 358.38 L106 358.03 L106.51 357.68 L107.03 357.31 L107.54 356.94 L108.06 356.55 L108.57 356.16 L109.09 355.75 L109.6 355.33 L110.12 354.9 L110.63 354.45 L111.14 354 L111.66 353.53 L112.17 353.05 L112.69 352.55 L113.2 352.04 L113.72 351.51 L114.23 350.97 L114.75 350.41 L115.26 349.83 L115.78 349.24 L116.29 348.62 L116.8 347.99 L117.32 347.34 L117.83 346.67 L118.35 345.97 L118.86 345.26 L119.38 344.52 L119.89 343.76 L120.41 342.97 L120.92 342.15 L121.43 341.31 L121.95 340.45 L122.46 339.55 L122.98 338.62 L123.49 337.67 L124.01 336.68 L124.52 335.65 L125.04 334.59 L125.55 333.5 L126.07 332.37 L126.58 331.2 L127.09 329.99 L127.61 328.74 L128.12 327.44 L128.64 326.1 L129.15 324.72 L129.67 323.28 L130.18 321.8 L130.7 320.27 L131.21 318.68 L131.72 317.04 L132.24 315.35 L132.75 313.6 L133.27 311.79 L133.78 309.92 L134.3 308 L134.81 306.01 L135.33 303.95 L135.84 301.84 L136.36 299.66 L136.87 297.42 L137.38 295.11 L137.9 292.74 L138.41 290.31 L138.93 287.82 L139.44 285.26 L139.96 282.65 L140.47 279.99 L140.99 277.27 L141.5 274.51 L142.01 271.71 L142.53 268.87 L143.04 266.01 L143.56 263.12 L144.07 260.23 L144.59 257.33 L145.1 254.45 L145.62 251.59 L146.13 248.76 L146.64 245.99 L147.16 243.28 L147.67 240.65 L148.19 238.12 L148.7 235.7 L149.22 233.42 L149.73 231.28 L150.25 229.31 L150.76 227.52 L151.28 225.93 L151.79 224.55 L152.3 223.39 L152.82 222.47 L153.33 221.79 L153.85 221.35 L154.36 221.17 L154.88 221.24 L155.39 221.52 L155.91 222.02 L156.42 222.73 L156.94 223.65 L157.45 224.76 L157.96 226.06 L158.48 227.55 L158.99 229.19 L159.51 231 L160.02 232.94 L160.54 235.02 L161.05 237.21 L161.57 239.5 L162.08 241.88 L162.59 244.34 L163.11 246.85 L163.62 249.42 L164.14 252.02 L164.65 254.66 L165.17 257.31 L165.68 259.96 L166.2 262.62 L166.71 265.26 L167.22 267.89 L167.74 270.49 L168.25 273.07 L168.77 275.61 L169.28 278.11 L169.8 280.57 L170.31 282.99 L170.83 285.36 L171.34 287.67 L171.86 289.94 L172.37 292.15 L172.88 294.31 L173.4 296.42 L173.91 298.47 L174.43 300.46 L174.94 302.4 L175.46 304.29 L175.97 306.13 L176.49 307.91 L177 309.64 L177.52 311.31 L178.03 312.94 L178.54 314.52 L179.06 316.05 L179.57 317.54 L180.09 318.98 L180.6 320.37 L181.12 321.72 L181.63 323.03 L182.15 324.3 L182.66 325.53 L183.17 326.72 L183.69 327.88 L184.2 328.99 L184.72 330.08 L185.23 331.13 L185.75 332.15 L186.26 333.13 L186.78 334.09 L187.29 335.02 L187.81 335.91 L188.32 336.79 L188.83 337.63 L189.35 338.45 L189.86 339.25 L190.38 340.02 L190.89 340.77 L191.41 341.49 L191.92 342.2 L192.44 342.88 L192.95 343.54 L193.46 344.19 L193.98 344.82 L194.49 345.42 L195.01 346.02 L195.52 346.59 L196.04 347.15 L196.55 347.69 L197.07 348.22 L197.58 348.73 L198.09 349.23 L198.61 349.71 L199.12 350.19 L199.64 350.64 L200.15 351.09 L200.67 351.53 L201.18 351.95 L201.7 352.36 L202.21 352.76 L202.73 353.16 L203.24 353.54 L203.75 353.91 L204.27 354.27 L204.78 354.62 L205.3 354.97 L205.81 355.3 L206.33 355.63 L206.84 355.95 L207.36 356.26 L207.87 356.56 L208.38 356.86 L208.9 357.15 L209.41 357.43 L209.93 357.7 L210.44 357.97 L210.96 358.24 L211.47 358.49 L211.99 358.74 L212.5 358.99 L213.02 359.23 L213.53 359.46 L214.04 359.69 L214.56 359.91 L215.07 360.13 L215.59 360.34 L216.1 360.55 L216.62 360.76 L217.13 360.96 L217.65 361.15 L218.16 361.35 L218.68 361.53 L219.19 361.72 L219.7 361.9 L220.22 362.07 L220.73 362.24 L221.25 362.41 L221.76 362.58 L222.28 362.74 L222.79 362.9 L223.31 363.05 L223.82 363.2 L224.33 363.35 L224.85 363.5 L225.36 363.64 L225.88 363.78 L226.39 363.92 L226.91 364.06 L227.42 364.19 L227.94 364.32 L228.45 364.45 L228.96 364.57 L229.48 364.69 L229.99 364.81 L230.51 364.93 L231.02 365.05 L231.54 365.16 L232.05 365.27 L232.57 365.38 L233.08 365.49 L233.6 365.6 L234.11 365.7 L234.62 365.8 L235.14 365.9 L235.65 366 L236.17 366.1 L236.68 366.19 L237.2 366.29 L237.71 366.38 L238.23 366.47 L238.74 366.56 L239.26 366.65 L239.77 366.73 L240.28 366.82 L240.8 366.9 L241.31 366.98 L241.83 367.06 L242.34 367.14 L242.86 367.22 L243.37 367.29 L243.89 367.37 L244.4 367.44" stroke="#cc9900"/>
<path d="M38.6 373.06 L39.11 373.03 L39.63 372.99 L40.14 372.96 L40.66 372.92 L41.17 372.89 L41.69 372.85 L42.2 372.81 L42.72 372.78 L43.23 372.74 L43.74 372.7 L44.26 372.66 L44.77 372.62 L45.29 372.58 L45.8 372.54 L46.32 372.5 L46.83 372.46 L47.35 372.41 L47.86 372.37 L48.38 372.33 L48.89 372.28 L49.4 372.24 L49.92 372.19 L50.43 372.15 L50.95 372.1 L51.46 372.05 L51.98 372.01 L52.49 371.96 L53.01 371.91 L53.52 371.86 L54.03 371.81 L54.55 371.76 L55.06 371.7 L55.58 371.65 L56.09 371.6 L56.61 371.54 L57.12 371.49 L57.64 371.43 L58.15 371.37 L58.67 371.31 L59.18 371.25 L59.69 371.19 L60.21 371.13 L60.72 371.07 L61.24 371.01 L61.75 370.94 L62.27 370.88 L62.78 370.81 L63.3 370.75 L63.81 370.68 L64.33 370.61 L64.84 370.54 L65.35 370.47 L65.87 370.39 L66.38 370.32 L66.9 370.25 L67.41 370.17 L67.93 370.09 L68.44 370.01 L68.96 369.93 L69.47 369.85 L69.98 369.77 L70.5 369.68 L71.01 369.6 L71.53 369.51 L72.04 369.42 L72.56 369.33 L73.07 369.24 L73.59 369.14 L74.1 369.05 L74.62 368.95 L75.13 368.85 L75.64 368.75 L76.16 368.65 L76.67 368.54 L77.19 368.44 L77.7 368.33 L78.22 368.22 L78.73 368.1 L79.25 367.99 L79.76 367.87 L80.27 367.75 L80.79 367.63 L81.3 367.51 L81.82 367.38 L82.33 367.25 L82.85 367.12 L83.36 366.99 L83.88 366.85 L84.39 366.71 L84.91 366.57 L85.42 366.42 L85.93 366.27 L86.45 366.12 L86.96 365.97 L87.48 365.81 L87.99 365.65 L88.51 365.48 L89.02 365.32 L89.54 365.14 L90.05 364.97 L90.56 364.79 L91.08 364.61 L91.59 364.42 L92.11 364.23 L92.62 364.03 L93.14 363.83 L93.65 363.63 L94.17 363.42 L94.68 363.21 L95.19 362.99 L95.71 362.76 L96.22 362.53 L96.74 362.3 L97.25 362.06 L97.77 361.81 L98.28 361.56 L98.8 361.3 L99.31 361.04 L99.83 360.77 L100.34 360.49 L100.85 360.21 L101.37 359.92 L101.88 359.62 L102.4 359.31 L102.91 359 L103.43 358.68 L103.94 358.35 L104.46 358.01 L104.97 357.66 L105.48 357.3 L106 356.94 L106.51 356.56 L107.03 356.17 L107.54 355.78 L108.06 355.37 L108.57 354.95 L109.09 354.52 L109.6 354.08 L110.12 353.62 L110.63 353.15 L111.14 352.67 L111.66 352.18 L112.17 351.67 L112.69 351.14 L113.2 350.6 L113.72 350.05 L114.23 349.48 L114.75 348.89 L115.26 348.28 L115.78 347.66 L116.29 347.01 L116.8 346.35 L117.32 345.67 L117.83 344.96 L118.35 344.23 L118.86 343.48 L119.38 342.71 L119.89 341.91 L120.41 341.09 L120.92 340.24 L121.43 339.36 L121.95 338.46 L122.46 337.53 L122.98 336.56 L123.49 335.57 L124.01 334.54 L124.52 333.47 L125.04 332.38 L125.55 331.24 L126.07 330.07 L126.58 328.86 L127.09 327.61 L127.61 326.32 L128.12 324.99 L128.64 323.61 L129.15 322.19 L129.67 320.72 L130.18 319.2 L130.7 317.63 L131.21 316.01 L131.72 314.34 L132.24 312.61 L132.75 310.83 L133.27 309 L133.78 307.11 L134.3 305.16 L134.81 303.15 L135.33 301.08 L135.84 298.96 L136.36 296.77 L136.87 294.53 L137.38 292.23 L137.9 289.87 L138.41 287.45 L138.93 284.98 L139.44 282.46 L139.96 279.89 L140.47 277.27 L140.99 274.61 L141.5 271.91 L142.01 269.18 L142.53 266.43 L143.04 263.65 L143.56 260.87 L144.07 258.09 L144.59 255.32 L145.1 252.56 L145.62 249.84 L146.13 247.16 L146.64 244.54 L147.16 241.99 L147.67 239.53 L148.19 237.16 L148.7 234.92 L149.22 232.8 L149.73 230.83 L150.25 229.03 L150.76 227.39 L151.28 225.95 L151.79 224.7 L152.3 223.67 L152.82 222.86 L153.33 222.27 L153.85 221.92 L154.36 221.8 L154.88 221.9 L155.39 222.2 L155.91 222.7 L156.42 223.4 L156.94 224.28 L157.45 225.35 L157.96 226.59 L158.48 227.99 L158.99 229.55 L159.51 231.26 L160.02 233.1 L160.54 235.06 L161.05 237.13 L161.57 239.29 L162.08 241.55 L162.59 243.87 L163.11 246.26 L163.62 248.7 L164.14 251.17 L164.65 253.68 L165.17 256.21 L165.68 258.75 L166.2 261.29 L166.71 263.83 L167.22 266.35 L167.74 268.86 L168.25 271.35 L168.77 273.8 L169.28 276.23 L169.8 278.62 L170.31 280.97 L170.83 283.28 L171.34 285.54 L171.86 287.76 L172.37 289.93 L172.88 292.06 L173.4 294.13 L173.91 296.15 L174.43 298.12 L174.94 300.04 L175.46 301.92 L175.97 303.74 L176.49 305.51 L177 307.23 L177.52 308.91 L178.03 310.53 L178.54 312.12 L179.06 313.65 L179.57 315.14 L180.09 316.59 L180.6 317.99 L181.12 319.35 L181.63 320.67 L182.15 321.96 L182.66 323.2 L183.17 324.41 L183.69 325.58 L184.2 326.71 L184.72 327.82 L185.23 328.88 L185.75 329.92 L186.26 330.93 L186.78 331.9 L187.29 332.85 L187.81 333.77 L188.32 334.66 L188.83 335.53 L189.35 336.37 L189.86 337.18 L190.38 337.97 L190.89 338.74 L191.41 339.49 L191.92 340.21 L192.44 340.92 L192.95 341.6 L193.46 342.27 L193.98 342.91 L194.49 343.54 L195.01 344.15 L195.52 344.75 L196.04 345.32 L196.55 345.88 L197.07 346.43 L197.58 346.96 L198.09 347.48 L198.61 347.98 L199.12 348.47 L199.64 348.95 L200.15 349.41 L200.67 349.86 L201.18 350.3 L201.7 350.73 L202.21 351.15 L202.73 351.56 L203.24 351.95 L203.75 352.34 L204.27 352.72 L204.78 353.09 L205.3 353.44 L205.81 353.79 L206.33 354.14 L206.84 354.47 L207.36 354.79 L207.87 355.11 L208.38 355.42 L208.9 355.72 L209.41 356.02 L209.93 356.3 L210.44 356.59 L210.96 356.86 L211.47 357.13 L211.99 357.39 L212.5 357.65 L213.02 357.9 L213.53 358.14 L214.04 358.38 L214.56 358.62 L215.07 358.85 L215.59 359.07 L216.1 359.29 L216.62 359.51 L217.13 359.72 L217.65 359.92 L218.16 360.12 L218.68 360.32 L219.19 360.51 L219.7 360.7 L220.22 360.89 L220.73 361.07 L221.25 361.24 L221.76 361.42 L222.28 361.59 L222.79 361.75 L223.31 361.92 L223.82 362.08 L224.33 362.23 L224.85 362.39 L225.36 362.54 L225.88 362.69 L226.39 362.83 L226.91 362.97 L227.42 363.11 L227.94 363.25 L228.45 363.39 L228.96 363.52 L229.48 363.65 L229.99 363.77 L230.51 363.9 L231.02 364.02 L231.54 364.14 L232.05 364.26 L232.57 364.38 L233.08 364.49 L233.6 364.6 L234.11 364.71 L234.62 364.82 L235.14 364.92 L235.65 365.03 L236.17 365.13 L236.68 365.23 L237.2 365.33 L237.71 365.43 L238.23 365.52 L238.74 365.62 L239.26 365.71 L239.77 365.8 L240.28 365.89 L240.8 365.97 L241.31 366.06 L241.83 366.15 L242.34 366.23 L242.86 366.31 L243.37 366.39 L243.89 366.47 L244.4 366.55" stroke="#00cbcc"/>
</g>
<path d="M38.6 379.5 v3.15 M38.6 213.9 v3.15 M64.33 379.5 v3.15 M64.33 213.9 v3.15 M90.05 379.5 v3.15 M90.05 213.9 v3.15 M115.78 379.5 v3.15 M115.78 213.9 v3.15 M141.5 379.5 v3.15 M141.5 213.9 v3.15 M167.22 379.5 v3.15 M167.22 213.9 v3.15 M192.95 379.5 v3.15 M192.95 213.9 v3.15 M218.68 379.5 v3.15 M218.68 213.9 v3.15 M244.4 379.5 v3.15 M244.4 213.9 v3.15 M51.46 379.5 v1.85 M51.46 213.9 v1.85 M77.19 379.5 v1.85 M77.19 213.9 v1.85 M102.91 379.5 v1.85 M102.91 213.9 v1.85 M128.64 379.5 v1.85 M128.64 213.9 v1.85 M154.36 379.5 v1.85 M154.36 213.9 v1.85 M180.09 379.5 v1.85 M180.09 213.9 v1.85 M205.81 379.5 v1.85 M205.81 213.9 v1.85 M231.54 379.5 v1.85 M231.54 213.9 v1.85 M38.6 379.5 h-3.15 M244.4 379.5 h-3.15 M38.6 371.62 h-1.85 M244.4 371.62 h-1.85 M38.6 363.73 h-3.15 M244.4 363.73 h-3.15 M38.6 355.85 h-1.85 M244.4 355.85 h-1.85 M38.6 347.96 h-3.15 M244.4 347.96 h-3.15 M38.6 340.07 h-1.85 M244.4 340.07 h-1.85 M38.6 332.19 h-3.15 M244.4 332.19 h-3.15 M38.6 324.31 h-1.85 M244.4 324.31 h-1.85 M38.6 316.42 h-3.15 M244.4 316.42 h-3.15 M38.6 308.53 h-1.85 M244.4 308.53 h-1.85 M38.6 300.65 h-3.15 M244.4 300.65 h-3.15 M38.6 292.76 h-1.85 M244.4 292.76 h-1.85 M38.6 284.88 h-3.15 M244.4 284.88 h-3.15 M38.6 277 h-1.85 M244.4 277 h-1.85 M38.6 269.11 h-3.15 M244.4 269.11 h-3.15 M38.6 261.23 h-1.85 M244.4 261.23 h-1.85 M38.6 253.34 h-3.15 M244.4 253.34 h-3.15 M38.6 245.45 h-1.85 M244.4 245.45 h-1.85 M38.6 237.57 h-3.15 M244.4 237.57 h-3.15 M38.6 229.69 h-1.85 M244.4 229.69 h-1.85 M38.6 221.8 h-3.15 M244.4 221.8 h-3.15" stroke="#000" stroke-width="0.99" fill="none"/>
<rect x="38.6" y="213.9" width="205.8" height="165.6" fill="none" stroke="#000" stroke-width="1.1"/>
<text x="33.6" y="382.9" font-size="11.5" text-anchor="end">0.0</text>
<text x="33.6" y="367.13" font-size="11.5" text-anchor="end">0.1</text>
<text x="33.6" y="351.36" font-size="11.5" text-anchor="end">0.2</text>
<text x="33.6" y="335.59" font-size="11.5" text-anchor="end">0.3</text>
<text x="33.6" y="319.82" font-size="11.5" text-anchor="end">0.4</text>
<text x="33.6" y="304.05" font-size="11.5" text-anchor="end">0.5</text>
<text x="33.6" y="288.28" font-size="11.5" text-anchor="end">0.6</text>
<text x="33.6" y="272.51" font-size="11.5" text-anchor="end">0.7</text>
<text x="33.6" y="256.74" font-size="11.5" text-anchor="end">0.8</text>
<text x="33.6" y="240.97" font-size="11.5" text-anchor="end">0.9</text>
<text x="33.6" y="225.2" font-size="11.5" text-anchor="end">1.0</text>
<text x="38.6" y="394" font-size="11.5" text-anchor="middle">4.5</text>
<text x="64.33" y="394" font-size="11.5" text-anchor="middle">5.0</text>
<text x="90.05" y="394" font-size="11.5" text-anchor="middle">5.5</text>
<text x="115.78" y="394" font-size="11.5" text-anchor="middle">6.0</text>
<text x="141.5" y="394" font-size="11.5" text-anchor="middle">6.5</text>
<text x="167.22" y="394" font-size="11.5" text-anchor="middle">7.0</text>
<text x="192.95" y="394" font-size="11.5" text-anchor="middle">7.5</text>
<text x="218.68" y="394" font-size="11.5" text-anchor="middle">8.0</text>
<text x="244.4" y="394" font-size="11.5" text-anchor="middle">8.5</text>
<rect x="178.6" y="217.4" width="64.2" height="84.3" fill="#fff" stroke="#7a7a7a" stroke-width="0.9"/>
<path d="M179.3 224.3 H200.8" stroke="#515151" stroke-width="2.1" fill="none"/>
<text x="202.4" y="227.2" font-size="8.9"><tspan font-style="italic" font-size="8.2">w</tspan>=0.18<tspan font-size="9.3">μm</tspan></text>
<path d="M179.3 236.23 H200.8" stroke="#f14040" stroke-width="2.1" fill="none"/>
<text x="202.4" y="239.13" font-size="8.9"><tspan font-style="italic" font-size="8.2">w</tspan>=0.28<tspan font-size="9.3">μm</tspan></text>
<path d="M179.3 248.16 H200.8" stroke="#1a6fdf" stroke-width="2.1" fill="none"/>
<text x="202.4" y="251.06" font-size="8.9"><tspan font-style="italic" font-size="8.2">w</tspan>=0.38<tspan font-size="9.3">μm</tspan></text>
<path d="M179.3 260.09 H200.8" stroke="#37ad6b" stroke-width="2.1" fill="none"/>
<text x="202.4" y="262.99" font-size="8.9"><tspan font-style="italic" font-size="8.2">w</tspan>=0.48<tspan font-size="9.3">μm</tspan></text>
<path d="M179.3 272.02 H200.8" stroke="#b177de" stroke-width="2.1" fill="none"/>
<text x="202.4" y="274.92" font-size="8.9"><tspan font-style="italic" font-size="8.2">w</tspan>=0.58<tspan font-size="9.3">μm</tspan></text>
<path d="M179.3 283.95 H200.8" stroke="#cc9900" stroke-width="2.1" fill="none"/>
<text x="202.4" y="286.85" font-size="8.9"><tspan font-style="italic" font-size="8.2">w</tspan>=0.68<tspan font-size="9.3">μm</tspan></text>
<path d="M179.3 295.88 H200.8" stroke="#00cbcc" stroke-width="2.1" fill="none"/>
<text x="202.4" y="298.78" font-size="8.9"><tspan font-style="italic" font-size="8.2">w</tspan>=0.78<tspan font-size="9.3">μm</tspan></text>
<text y="410.3" font-size="14.4"><tspan x="90.6">Wavelength</tspan><tspan x="163.3" font-size="12.5">(</tspan><tspan x="166.9" font-size="13">μ</tspan><tspan x="174.3" font-size="14.5">m</tspan><tspan x="188.1" font-size="12.5">)</tspan></text>
<text transform="translate(15.0 289.6) rotate(-90)" font-size="13.7" text-anchor="middle">Absorption</text>
<text x="126" y="428.6" font-size="12.5" text-anchor="middle" style="font-weight:normal">(<tspan style="font-weight:bold">c</tspan>)</text>
</g>
<g id="pd">
<clipPath id="cd"><rect x="331.4" y="214.3" width="209.6" height="165.8"/></clipPath>
<g clip-path="url(#cd)" fill="none" stroke-width="2.5" stroke-linejoin="round">
<path d="M331.4 373.37 L331.82 373.33 L332.24 373.3 L332.66 373.26 L333.08 373.23 L333.5 373.19 L333.92 373.16 L334.33 373.12 L334.75 373.08 L335.17 373.04 L335.59 373 L336.01 372.96 L336.43 372.92 L336.85 372.88 L337.27 372.84 L337.69 372.8 L338.11 372.76 L338.53 372.71 L338.95 372.67 L339.36 372.62 L339.78 372.58 L340.2 372.53 L340.62 372.48 L341.04 372.44 L341.46 372.39 L341.88 372.34 L342.3 372.29 L342.72 372.24 L343.14 372.19 L343.56 372.13 L343.98 372.08 L344.4 372.03 L344.81 371.97 L345.23 371.91 L345.65 371.86 L346.07 371.8 L346.49 371.74 L346.91 371.68 L347.33 371.62 L347.75 371.56 L348.17 371.49 L348.59 371.43 L349.01 371.36 L349.43 371.3 L349.84 371.23 L350.26 371.16 L350.68 371.09 L351.1 371.02 L351.52 370.94 L351.94 370.87 L352.36 370.79 L352.78 370.72 L353.2 370.64 L353.62 370.56 L354.04 370.48 L354.46 370.4 L354.88 370.31 L355.29 370.22 L355.71 370.14 L356.13 370.05 L356.55 369.96 L356.97 369.86 L357.39 369.77 L357.81 369.67 L358.23 369.57 L358.65 369.47 L359.07 369.37 L359.49 369.26 L359.91 369.16 L360.32 369.05 L360.74 368.94 L361.16 368.82 L361.58 368.71 L362 368.59 L362.42 368.47 L362.84 368.34 L363.26 368.22 L363.68 368.09 L364.1 367.95 L364.52 367.82 L364.94 367.68 L365.36 367.54 L365.77 367.4 L366.19 367.25 L366.61 367.1 L367.03 366.94 L367.45 366.78 L367.87 366.62 L368.29 366.46 L368.71 366.29 L369.13 366.11 L369.55 365.94 L369.97 365.76 L370.39 365.57 L370.8 365.38 L371.22 365.18 L371.64 364.98 L372.06 364.78 L372.48 364.57 L372.9 364.35 L373.32 364.13 L373.74 363.9 L374.16 363.67 L374.58 363.43 L375 363.18 L375.42 362.93 L375.84 362.67 L376.25 362.41 L376.67 362.13 L377.09 361.85 L377.51 361.56 L377.93 361.27 L378.35 360.96 L378.77 360.65 L379.19 360.33 L379.61 359.99 L380.03 359.65 L380.45 359.3 L380.87 358.94 L381.28 358.57 L381.7 358.18 L382.12 357.79 L382.54 357.38 L382.96 356.96 L383.38 356.53 L383.8 356.09 L384.22 355.63 L384.64 355.15 L385.06 354.66 L385.48 354.16 L385.9 353.63 L386.32 353.1 L386.73 352.54 L387.15 351.97 L387.57 351.37 L387.99 350.76 L388.41 350.12 L388.83 349.47 L389.25 348.79 L389.67 348.09 L390.09 347.36 L390.51 346.61 L390.93 345.83 L391.35 345.02 L391.76 344.19 L392.18 343.32 L392.6 342.42 L393.02 341.49 L393.44 340.53 L393.86 339.53 L394.28 338.49 L394.7 337.42 L395.12 336.3 L395.54 335.14 L395.96 333.94 L396.38 332.69 L396.8 331.4 L397.21 330.05 L397.63 328.66 L398.05 327.21 L398.47 325.7 L398.89 324.14 L399.31 322.52 L399.73 320.84 L400.15 319.09 L400.57 317.28 L400.99 315.4 L401.41 313.44 L401.83 311.42 L402.24 309.33 L402.66 307.16 L403.08 304.91 L403.5 302.59 L403.92 300.19 L404.34 297.71 L404.76 295.15 L405.18 292.52 L405.6 289.81 L406.02 287.02 L406.44 284.17 L406.86 281.24 L407.28 278.25 L407.69 275.21 L408.11 272.12 L408.53 268.98 L408.95 265.81 L409.37 262.62 L409.79 259.43 L410.21 256.24 L410.63 253.07 L411.05 249.94 L411.47 246.87 L411.89 243.88 L412.31 241 L412.72 238.23 L413.14 235.62 L413.56 233.17 L413.98 230.91 L414.4 228.87 L414.82 227.07 L415.24 225.52 L415.66 224.24 L416.08 223.26 L416.5 222.57 L416.92 222.18 L417.34 222.11 L417.76 222.34 L418.17 222.85 L418.59 223.64 L419.01 224.71 L419.43 226.04 L419.85 227.62 L420.27 229.43 L420.69 231.45 L421.11 233.67 L421.53 236.06 L421.95 238.6 L422.37 241.27 L422.79 244.06 L423.2 246.94 L423.62 249.89 L424.04 252.89 L424.46 255.93 L424.88 258.99 L425.3 262.06 L425.72 265.12 L426.14 268.16 L426.56 271.17 L426.98 274.15 L427.4 277.08 L427.82 279.95 L428.24 282.77 L428.65 285.53 L429.07 288.23 L429.49 290.85 L429.91 293.41 L430.33 295.89 L430.75 298.3 L431.17 300.64 L431.59 302.9 L432.01 305.1 L432.43 307.22 L432.85 309.27 L433.27 311.25 L433.68 313.17 L434.1 315.02 L434.52 316.8 L434.94 318.52 L435.36 320.19 L435.78 321.79 L436.2 323.34 L436.62 324.83 L437.04 326.26 L437.46 327.65 L437.88 328.99 L438.3 330.28 L438.72 331.52 L439.13 332.72 L439.55 333.88 L439.97 334.99 L440.39 336.07 L440.81 337.11 L441.23 338.11 L441.65 339.08 L442.07 340.01 L442.49 340.91 L442.91 341.78 L443.33 342.62 L443.75 343.44 L444.16 344.22 L444.58 344.98 L445 345.71 L445.42 346.42 L445.84 347.11 L446.26 347.77 L446.68 348.42 L447.1 349.04 L447.52 349.64 L447.94 350.22 L448.36 350.79 L448.78 351.34 L449.2 351.87 L449.61 352.38 L450.03 352.88 L450.45 353.36 L450.87 353.83 L451.29 354.28 L451.71 354.72 L452.13 355.15 L452.55 355.57 L452.97 355.97 L453.39 356.36 L453.81 356.74 L454.23 357.11 L454.64 357.47 L455.06 357.82 L455.48 358.16 L455.9 358.49 L456.32 358.81 L456.74 359.12 L457.16 359.42 L457.58 359.72 L458 360.01 L458.42 360.29 L458.84 360.56 L459.26 360.83 L459.68 361.09 L460.09 361.34 L460.51 361.58 L460.93 361.82 L461.35 362.06 L461.77 362.29 L462.19 362.51 L462.61 362.72 L463.03 362.94 L463.45 363.14 L463.87 363.34 L464.29 363.54 L464.71 363.73 L465.12 363.92 L465.54 364.1 L465.96 364.28 L466.38 364.46 L466.8 364.63 L467.22 364.79 L467.64 364.96 L468.06 365.12 L468.48 365.27 L468.9 365.43 L469.32 365.57 L469.74 365.72 L470.16 365.86 L470.57 366 L470.99 366.14 L471.41 366.27 L471.83 366.4 L472.25 366.53 L472.67 366.66 L473.09 366.78 L473.51 366.9 L473.93 367.02 L474.35 367.13 L474.77 367.25 L475.19 367.36 L475.6 367.47 L476.02 367.57 L476.44 367.68 L476.86 367.78 L477.28 367.88 L477.7 367.98 L478.12 368.07 L478.54 368.17 L478.96 368.26 L479.38 368.35 L479.8 368.44 L480.22 368.53 L480.64 368.62 L481.05 368.7 L481.47 368.78 L481.89 368.86 L482.31 368.94 L482.73 369.02 L483.15 369.1 L483.57 369.18 L483.99 369.25 L484.41 369.32 L484.83 369.39 L485.25 369.47 L485.67 369.53 L486.08 369.6 L486.5 369.67 L486.92 369.74 L487.34 369.8 L487.76 369.86 L488.18 369.93 L488.6 369.99 L489.02 370.05 L489.44 370.11 L489.86 370.17 L490.28 370.22 L490.7 370.28 L491.12 370.34 L491.53 370.39 L491.95 370.44 L492.37 370.5 L492.79 370.55 L493.21 370.6 L493.63 370.65 L494.05 370.7 L494.47 370.75 L494.89 370.8 L495.31 370.84 L495.73 370.89 L496.15 370.94 L496.56 370.98 L496.98 371.03 L497.4 371.07 L497.82 371.11 L498.24 371.16 L498.66 371.2 L499.08 371.24 L499.5 371.28 L499.92 371.32 L500.34 371.36 L500.76 371.4 L501.18 371.44 L501.6 371.48 L502.01 371.51 L502.43 371.55 L502.85 371.59 L503.27 371.62 L503.69 371.66 L504.11 371.69 L504.53 371.73 L504.95 371.76 L505.37 371.79 L505.79 371.83 L506.21 371.86 L506.63 371.89 L507.04 371.92 L507.46 371.95 L507.88 371.98 L508.3 372.02 L508.72 372.04 L509.14 372.07 L509.56 372.1 L509.98 372.13 L510.4 372.16 L510.82 372.19 L511.24 372.22 L511.66 372.24 L512.08 372.27 L512.49 372.3 L512.91 372.32 L513.33 372.35 L513.75 372.37 L514.17 372.4 L514.59 372.43 L515.01 372.45 L515.43 372.47 L515.85 372.5 L516.27 372.52 L516.69 372.55 L517.11 372.57 L517.52 372.59 L517.94 372.61 L518.36 372.64 L518.78 372.66 L519.2 372.68 L519.62 372.7 L520.04 372.72 L520.46 372.74 L520.88 372.76 L521.3 372.79 L521.72 372.81 L522.14 372.83 L522.56 372.85 L522.97 372.86 L523.39 372.88 L523.81 372.9 L524.23 372.92 L524.65 372.94 L525.07 372.96 L525.49 372.98 L525.91 373 L526.33 373.01 L526.75 373.03 L527.17 373.05 L527.59 373.07 L528 373.08 L528.42 373.1 L528.84 373.12 L529.26 373.13 L529.68 373.15 L530.1 373.17 L530.52 373.18 L530.94 373.2 L531.36 373.21 L531.78 373.23 L532.2 373.24 L532.62 373.26 L533.04 373.27 L533.45 373.29 L533.87 373.3 L534.29 373.32 L534.71 373.33 L535.13 373.35 L535.55 373.36 L535.97 373.37 L536.39 373.39 L536.81 373.4 L537.23 373.42 L537.65 373.43 L538.07 373.44 L538.48 373.45 L538.9 373.47 L539.32 373.48 L539.74 373.49 L540.16 373.51 L540.58 373.52 L541 373.53" stroke="#515151"/>
<path d="M331.4 373.37 L331.82 373.33 L332.24 373.3 L332.66 373.26 L333.08 373.23 L333.5 373.19 L333.92 373.16 L334.33 373.12 L334.75 373.08 L335.17 373.04 L335.59 373 L336.01 372.96 L336.43 372.92 L336.85 372.88 L337.27 372.84 L337.69 372.8 L338.11 372.76 L338.53 372.71 L338.95 372.67 L339.36 372.62 L339.78 372.58 L340.2 372.53 L340.62 372.48 L341.04 372.44 L341.46 372.39 L341.88 372.34 L342.3 372.29 L342.72 372.24 L343.14 372.19 L343.56 372.13 L343.98 372.08 L344.4 372.03 L344.81 371.97 L345.23 371.91 L345.65 371.86 L346.07 371.8 L346.49 371.74 L346.91 371.68 L347.33 371.62 L347.75 371.56 L348.17 371.49 L348.59 371.43 L349.01 371.36 L349.43 371.3 L349.84 371.23 L350.26 371.16 L350.68 371.09 L351.1 371.02 L351.52 370.94 L351.94 370.87 L352.36 370.79 L352.78 370.72 L353.2 370.64 L353.62 370.56 L354.04 370.48 L354.46 370.4 L354.88 370.31 L355.29 370.22 L355.71 370.14 L356.13 370.05 L356.55 369.96 L356.97 369.86 L357.39 369.77 L357.81 369.67 L358.23 369.57 L358.65 369.47 L359.07 369.37 L359.49 369.26 L359.91 369.16 L360.32 369.05 L360.74 368.94 L361.16 368.82 L361.58 368.71 L362 368.59 L362.42 368.47 L362.84 368.34 L363.26 368.22 L363.68 368.09 L364.1 367.95 L364.52 367.82 L364.94 367.68 L365.36 367.54 L365.77 367.4 L366.19 367.25 L366.61 367.1 L367.03 366.94 L367.45 366.78 L367.87 366.62 L368.29 366.46 L368.71 366.29 L369.13 366.11 L369.55 365.94 L369.97 365.76 L370.39 365.57 L370.8 365.38 L371.22 365.18 L371.64 364.98 L372.06 364.78 L372.48 364.57 L372.9 364.35 L373.32 364.13 L373.74 363.9 L374.16 363.67 L374.58 363.43 L375 363.18 L375.42 362.93 L375.84 362.67 L376.25 362.41 L376.67 362.13 L377.09 361.85 L377.51 361.56 L377.93 361.27 L378.35 360.96 L378.77 360.65 L379.19 360.33 L379.61 359.99 L380.03 359.65 L380.45 359.3 L380.87 358.94 L381.28 358.57 L381.7 358.18 L382.12 357.79 L382.54 357.38 L382.96 356.96 L383.38 356.53 L383.8 356.09 L384.22 355.63 L384.64 355.15 L385.06 354.66 L385.48 354.16 L385.9 353.63 L386.32 353.1 L386.73 352.54 L387.15 351.97 L387.57 351.37 L387.99 350.76 L388.41 350.12 L388.83 349.47 L389.25 348.79 L389.67 348.09 L390.09 347.36 L390.51 346.61 L390.93 345.83 L391.35 345.02 L391.76 344.19 L392.18 343.32 L392.6 342.42 L393.02 341.49 L393.44 340.53 L393.86 339.53 L394.28 338.49 L394.7 337.42 L395.12 336.3 L395.54 335.14 L395.96 333.94 L396.38 332.69 L396.8 331.4 L397.21 330.05 L397.63 328.66 L398.05 327.21 L398.47 325.7 L398.89 324.14 L399.31 322.52 L399.73 320.84 L400.15 319.09 L400.57 317.28 L400.99 315.4 L401.41 313.44 L401.83 311.42 L402.24 309.33 L402.66 307.16 L403.08 304.91 L403.5 302.59 L403.92 300.19 L404.34 297.71 L404.76 295.15 L405.18 292.52 L405.6 289.81 L406.02 287.02 L406.44 284.17 L406.86 281.24 L407.28 278.25 L407.69 275.21 L408.11 272.12 L408.53 268.98 L408.95 265.81 L409.37 262.62 L409.79 259.43 L410.21 256.24 L410.63 253.07 L411.05 249.94 L411.47 246.87 L411.89 243.88 L412.31 241 L412.72 238.23 L413.14 235.62 L413.56 233.17 L413.98 230.91 L414.4 228.87 L414.82 227.07 L415.24 225.52 L415.66 224.24 L416.08 223.26 L416.5 222.57 L416.92 222.18 L417.34 222.11 L417.76 222.34 L418.17 222.85 L418.59 223.64 L419.01 224.71 L419.43 226.04 L419.85 227.62 L420.27 229.43 L420.69 231.45 L421.11 233.67 L421.53 236.06 L421.95 238.6 L422.37 241.27 L422.79 244.06 L423.2 246.94 L423.62 249.89 L424.04 252.89 L424.46 255.93 L424.88 258.99 L425.3 262.06 L425.72 265.12 L426.14 268.16 L426.56 271.17 L426.98 274.15 L427.4 277.08 L427.82 279.95 L428.24 282.77 L428.65 285.53 L429.07 288.23 L429.49 290.85 L429.91 293.41 L430.33 295.89 L430.75 298.3 L431.17 300.64 L431.59 302.9 L432.01 305.1 L432.43 307.22 L432.85 309.27 L433.27 311.25 L433.68 313.17 L434.1 315.02 L434.52 316.8 L434.94 318.52 L435.36 320.19 L435.78 321.79 L436.2 323.34 L436.62 324.83 L437.04 326.26 L437.46 327.65 L437.88 328.99 L438.3 330.28 L438.72 331.52 L439.13 332.72 L439.55 333.88 L439.97 334.99 L440.39 336.07 L440.81 337.11 L441.23 338.11 L441.65 339.08 L442.07 340.01 L442.49 340.91 L442.91 341.78 L443.33 342.62 L443.75 343.44 L444.16 344.22 L444.58 344.98 L445 345.71 L445.42 346.42 L445.84 347.11 L446.26 347.77 L446.68 348.42 L447.1 349.04 L447.52 349.64 L447.94 350.22 L448.36 350.79 L448.78 351.34 L449.2 351.87 L449.61 352.38 L450.03 352.88 L450.45 353.36 L450.87 353.83 L451.29 354.28 L451.71 354.72 L452.13 355.15 L452.55 355.57 L452.97 355.97 L453.39 356.36 L453.81 356.74 L454.23 357.11 L454.64 357.47 L455.06 357.82 L455.48 358.16 L455.9 358.49 L456.32 358.81 L456.74 359.12 L457.16 359.42 L457.58 359.72 L458 360.01 L458.42 360.29 L458.84 360.56 L459.26 360.83 L459.68 361.09 L460.09 361.34 L460.51 361.58 L460.93 361.82 L461.35 362.06 L461.77 362.29 L462.19 362.51 L462.61 362.72 L463.03 362.94 L463.45 363.14 L463.87 363.34 L464.29 363.54 L464.71 363.73 L465.12 363.92 L465.54 364.1 L465.96 364.28 L466.38 364.46 L466.8 364.63 L467.22 364.79 L467.64 364.96 L468.06 365.12 L468.48 365.27 L468.9 365.43 L469.32 365.57 L469.74 365.72 L470.16 365.86 L470.57 366 L470.99 366.14 L471.41 366.27 L471.83 366.4 L472.25 366.53 L472.67 366.66 L473.09 366.78 L473.51 366.9 L473.93 367.02 L474.35 367.13 L474.77 367.25 L475.19 367.36 L475.6 367.47 L476.02 367.57 L476.44 367.68 L476.86 367.78 L477.28 367.88 L477.7 367.98 L478.12 368.07 L478.54 368.17 L478.96 368.26 L479.38 368.35 L479.8 368.44 L480.22 368.53 L480.64 368.62 L481.05 368.7 L481.47 368.78 L481.89 368.86 L482.31 368.94 L482.73 369.02 L483.15 369.1 L483.57 369.18 L483.99 369.25 L484.41 369.32 L484.83 369.39 L485.25 369.47 L485.67 369.53 L486.08 369.6 L486.5 369.67 L486.92 369.74 L487.34 369.8 L487.76 369.86 L488.18 369.93 L488.6 369.99 L489.02 370.05 L489.44 370.11 L489.86 370.17 L490.28 370.22 L490.7 370.28 L491.12 370.34 L491.53 370.39 L491.95 370.44 L492.37 370.5 L492.79 370.55 L493.21 370.6 L493.63 370.65 L494.05 370.7 L494.47 370.75 L494.89 370.8 L495.31 370.84 L495.73 370.89 L496.15 370.94 L496.56 370.98 L496.98 371.03 L497.4 371.07 L497.82 371.11 L498.24 371.16 L498.66 371.2 L499.08 371.24 L499.5 371.28 L499.92 371.32 L500.34 371.36 L500.76 371.4 L501.18 371.44 L501.6 371.48 L502.01 371.51 L502.43 371.55 L502.85 371.59 L503.27 371.62 L503.69 371.66 L504.11 371.69 L504.53 371.73 L504.95 371.76 L505.37 371.79 L505.79 371.83 L506.21 371.86 L506.63 371.89 L507.04 371.92 L507.46 371.95 L507.88 371.98 L508.3 372.02 L508.72 372.04 L509.14 372.07 L509.56 372.1 L509.98 372.13 L510.4 372.16 L510.82 372.19 L511.24 372.22 L511.66 372.24 L512.08 372.27 L512.49 372.3 L512.91 372.32 L513.33 372.35 L513.75 372.37 L514.17 372.4 L514.59 372.43 L515.01 372.45 L515.43 372.47 L515.85 372.5 L516.27 372.52 L516.69 372.55 L517.11 372.57 L517.52 372.59 L517.94 372.61 L518.36 372.64 L518.78 372.66 L519.2 372.68 L519.62 372.7 L520.04 372.72 L520.46 372.74 L520.88 372.76 L521.3 372.79 L521.72 372.81 L522.14 372.83 L522.56 372.85 L522.97 372.86 L523.39 372.88 L523.81 372.9 L524.23 372.92 L524.65 372.94 L525.07 372.96 L525.49 372.98 L525.91 373 L526.33 373.01 L526.75 373.03 L527.17 373.05 L527.59 373.07 L528 373.08 L528.42 373.1 L528.84 373.12 L529.26 373.13 L529.68 373.15 L530.1 373.17 L530.52 373.18 L530.94 373.2 L531.36 373.21 L531.78 373.23 L532.2 373.24 L532.62 373.26 L533.04 373.27 L533.45 373.29 L533.87 373.3 L534.29 373.32 L534.71 373.33 L535.13 373.35 L535.55 373.36 L535.97 373.37 L536.39 373.39 L536.81 373.4 L537.23 373.42 L537.65 373.43 L538.07 373.44 L538.48 373.45 L538.9 373.47 L539.32 373.48 L539.74 373.49 L540.16 373.51 L540.58 373.52 L541 373.53" stroke="#f14040" stroke-dasharray="10.5 7"/>
<path d="M331.4 373.37 L331.82 373.33 L332.24 373.3 L332.66 373.26 L333.08 373.23 L333.5 373.19 L333.92 373.16 L334.33 373.12 L334.75 373.08 L335.17 373.04 L335.59 373 L336.01 372.96 L336.43 372.92 L336.85 372.88 L337.27 372.84 L337.69 372.8 L338.11 372.76 L338.53 372.71 L338.95 372.67 L339.36 372.62 L339.78 372.58 L340.2 372.53 L340.62 372.48 L341.04 372.44 L341.46 372.39 L341.88 372.34 L342.3 372.29 L342.72 372.24 L343.14 372.19 L343.56 372.13 L343.98 372.08 L344.4 372.03 L344.81 371.97 L345.23 371.91 L345.65 371.86 L346.07 371.8 L346.49 371.74 L346.91 371.68 L347.33 371.62 L347.75 371.56 L348.17 371.49 L348.59 371.43 L349.01 371.36 L349.43 371.3 L349.84 371.23 L350.26 371.16 L350.68 371.09 L351.1 371.02 L351.52 370.94 L351.94 370.87 L352.36 370.79 L352.78 370.72 L353.2 370.64 L353.62 370.56 L354.04 370.48 L354.46 370.4 L354.88 370.31 L355.29 370.22 L355.71 370.14 L356.13 370.05 L356.55 369.96 L356.97 369.86 L357.39 369.77 L357.81 369.67 L358.23 369.57 L358.65 369.47 L359.07 369.37 L359.49 369.26 L359.91 369.16 L360.32 369.05 L360.74 368.94 L361.16 368.82 L361.58 368.71 L362 368.59 L362.42 368.47 L362.84 368.34 L363.26 368.22 L363.68 368.09 L364.1 367.95 L364.52 367.82 L364.94 367.68 L365.36 367.54 L365.77 367.4 L366.19 367.25 L366.61 367.1 L367.03 366.94 L367.45 366.78 L367.87 366.62 L368.29 366.46 L368.71 366.29 L369.13 366.11 L369.55 365.94 L369.97 365.76 L370.39 365.57 L370.8 365.38 L371.22 365.18 L371.64 364.98 L372.06 364.78 L372.48 364.57 L372.9 364.35 L373.32 364.13 L373.74 363.9 L374.16 363.67 L374.58 363.43 L375 363.18 L375.42 362.93 L375.84 362.67 L376.25 362.41 L376.67 362.13 L377.09 361.85 L377.51 361.56 L377.93 361.27 L378.35 360.96 L378.77 360.65 L379.19 360.33 L379.61 359.99 L380.03 359.65 L380.45 359.3 L380.87 358.94 L381.28 358.57 L381.7 358.18 L382.12 357.79 L382.54 357.38 L382.96 356.96 L383.38 356.53 L383.8 356.09 L384.22 355.63 L384.64 355.15 L385.06 354.66 L385.48 354.16 L385.9 353.63 L386.32 353.1 L386.73 352.54 L387.15 351.97 L387.57 351.37 L387.99 350.76 L388.41 350.12 L388.83 349.47 L389.25 348.79 L389.67 348.09 L390.09 347.36 L390.51 346.61 L390.93 345.83 L391.35 345.02 L391.76 344.19 L392.18 343.32 L392.6 342.42 L393.02 341.49 L393.44 340.53 L393.86 339.53 L394.28 338.49 L394.7 337.42 L395.12 336.3 L395.54 335.14 L395.96 333.94 L396.38 332.69 L396.8 331.4 L397.21 330.05 L397.63 328.66 L398.05 327.21 L398.47 325.7 L398.89 324.14 L399.31 322.52 L399.73 320.84 L400.15 319.09 L400.57 317.28 L400.99 315.4 L401.41 313.44 L401.83 311.42 L402.24 309.33 L402.66 307.16 L403.08 304.91 L403.5 302.59 L403.92 300.19 L404.34 297.71 L404.76 295.15 L405.18 292.52 L405.6 289.81 L406.02 287.02 L406.44 284.17 L406.86 281.24 L407.28 278.25 L407.69 275.21 L408.11 272.12 L408.53 268.98 L408.95 265.81 L409.37 262.62 L409.79 259.43 L410.21 256.24 L410.63 253.07 L411.05 249.94 L411.47 246.87 L411.89 243.88 L412.31 241 L412.72 238.23 L413.14 235.62 L413.56 233.17 L413.98 230.91 L414.4 228.87 L414.82 227.07 L415.24 225.52 L415.66 224.24 L416.08 223.26 L416.5 222.57 L416.92 222.18 L417.34 222.11 L417.76 222.34 L418.17 222.85 L418.59 223.64 L419.01 224.71 L419.43 226.04 L419.85 227.62 L420.27 229.43 L420.69 231.45 L421.11 233.67 L421.53 236.06 L421.95 238.6 L422.37 241.27 L422.79 244.06 L423.2 246.94 L423.62 249.89 L424.04 252.89 L424.46 255.93 L424.88 258.99 L425.3 262.06 L425.72 265.12 L426.14 268.16 L426.56 271.17 L426.98 274.15 L427.4 277.08 L427.82 279.95 L428.24 282.77 L428.65 285.53 L429.07 288.23 L429.49 290.85 L429.91 293.41 L430.33 295.89 L430.75 298.3 L431.17 300.64 L431.59 302.9 L432.01 305.1 L432.43 307.22 L432.85 309.27 L433.27 311.25 L433.68 313.17 L434.1 315.02 L434.52 316.8 L434.94 318.52 L435.36 320.19 L435.78 321.79 L436.2 323.34 L436.62 324.83 L437.04 326.26 L437.46 327.65 L437.88 328.99 L438.3 330.28 L438.72 331.52 L439.13 332.72 L439.55 333.88 L439.97 334.99 L440.39 336.07 L440.81 337.11 L441.23 338.11 L441.65 339.08 L442.07 340.01 L442.49 340.91 L442.91 341.78 L443.33 342.62 L443.75 343.44 L444.16 344.22 L444.58 344.98 L445 345.71 L445.42 346.42 L445.84 347.11 L446.26 347.77 L446.68 348.42 L447.1 349.04 L447.52 349.64 L447.94 350.22 L448.36 350.79 L448.78 351.34 L449.2 351.87 L449.61 352.38 L450.03 352.88 L450.45 353.36 L450.87 353.83 L451.29 354.28 L451.71 354.72 L452.13 355.15 L452.55 355.57 L452.97 355.97 L453.39 356.36 L453.81 356.74 L454.23 357.11 L454.64 357.47 L455.06 357.82 L455.48 358.16 L455.9 358.49 L456.32 358.81 L456.74 359.12 L457.16 359.42 L457.58 359.72 L458 360.01 L458.42 360.29 L458.84 360.56 L459.26 360.83 L459.68 361.09 L460.09 361.34 L460.51 361.58 L460.93 361.82 L461.35 362.06 L461.77 362.29 L462.19 362.51 L462.61 362.72 L463.03 362.94 L463.45 363.14 L463.87 363.34 L464.29 363.54 L464.71 363.73 L465.12 363.92 L465.54 364.1 L465.96 364.28 L466.38 364.46 L466.8 364.63 L467.22 364.79 L467.64 364.96 L468.06 365.12 L468.48 365.27 L468.9 365.43 L469.32 365.57 L469.74 365.72 L470.16 365.86 L470.57 366 L470.99 366.14 L471.41 366.27 L471.83 366.4 L472.25 366.53 L472.67 366.66 L473.09 366.78 L473.51 366.9 L473.93 367.02 L474.35 367.13 L474.77 367.25 L475.19 367.36 L475.6 367.47 L476.02 367.57 L476.44 367.68 L476.86 367.78 L477.28 367.88 L477.7 367.98 L478.12 368.07 L478.54 368.17 L478.96 368.26 L479.38 368.35 L479.8 368.44 L480.22 368.53 L480.64 368.62 L481.05 368.7 L481.47 368.78 L481.89 368.86 L482.31 368.94 L482.73 369.02 L483.15 369.1 L483.57 369.18 L483.99 369.25 L484.41 369.32 L484.83 369.39 L485.25 369.47 L485.67 369.53 L486.08 369.6 L486.5 369.67 L486.92 369.74 L487.34 369.8 L487.76 369.86 L488.18 369.93 L488.6 369.99 L489.02 370.05 L489.44 370.11 L489.86 370.17 L490.28 370.22 L490.7 370.28 L491.12 370.34 L491.53 370.39 L491.95 370.44 L492.37 370.5 L492.79 370.55 L493.21 370.6 L493.63 370.65 L494.05 370.7 L494.47 370.75 L494.89 370.8 L495.31 370.84 L495.73 370.89 L496.15 370.94 L496.56 370.98 L496.98 371.03 L497.4 371.07 L497.82 371.11 L498.24 371.16 L498.66 371.2 L499.08 371.24 L499.5 371.28 L499.92 371.32 L500.34 371.36 L500.76 371.4 L501.18 371.44 L501.6 371.48 L502.01 371.51 L502.43 371.55 L502.85 371.59 L503.27 371.62 L503.69 371.66 L504.11 371.69 L504.53 371.73 L504.95 371.76 L505.37 371.79 L505.79 371.83 L506.21 371.86 L506.63 371.89 L507.04 371.92 L507.46 371.95 L507.88 371.98 L508.3 372.02 L508.72 372.04 L509.14 372.07 L509.56 372.1 L509.98 372.13 L510.4 372.16 L510.82 372.19 L511.24 372.22 L511.66 372.24 L512.08 372.27 L512.49 372.3 L512.91 372.32 L513.33 372.35 L513.75 372.37 L514.17 372.4 L514.59 372.43 L515.01 372.45 L515.43 372.47 L515.85 372.5 L516.27 372.52 L516.69 372.55 L517.11 372.57 L517.52 372.59 L517.94 372.61 L518.36 372.64 L518.78 372.66 L519.2 372.68 L519.62 372.7 L520.04 372.72 L520.46 372.74 L520.88 372.76 L521.3 372.79 L521.72 372.81 L522.14 372.83 L522.56 372.85 L522.97 372.86 L523.39 372.88 L523.81 372.9 L524.23 372.92 L524.65 372.94 L525.07 372.96 L525.49 372.98 L525.91 373 L526.33 373.01 L526.75 373.03 L527.17 373.05 L527.59 373.07 L528 373.08 L528.42 373.1 L528.84 373.12 L529.26 373.13 L529.68 373.15 L530.1 373.17 L530.52 373.18 L530.94 373.2 L531.36 373.21 L531.78 373.23 L532.2 373.24 L532.62 373.26 L533.04 373.27 L533.45 373.29 L533.87 373.3 L534.29 373.32 L534.71 373.33 L535.13 373.35 L535.55 373.36 L535.97 373.37 L536.39 373.39 L536.81 373.4 L537.23 373.42 L537.65 373.43 L538.07 373.44 L538.48 373.45 L538.9 373.47 L539.32 373.48 L539.74 373.49 L540.16 373.51 L540.58 373.52 L541 373.53" stroke="#1a6fdf" stroke-dasharray="2.6 8.7" stroke-dashoffset="-1"/>
</g>
<path d="M350.45 380.1 v3.15 M350.45 214.3 v3.15 M388.56 380.1 v3.15 M388.56 214.3 v3.15 M426.67 380.1 v3.15 M426.67 214.3 v3.15 M464.78 380.1 v3.15 M464.78 214.3 v3.15 M502.89 380.1 v3.15 M502.89 214.3 v3.15 M541 380.1 v3.15 M541 214.3 v3.15 M331.4 380.1 v1.85 M331.4 214.3 v1.85 M369.51 380.1 v1.85 M369.51 214.3 v1.85 M407.62 380.1 v1.85 M407.62 214.3 v1.85 M445.73 380.1 v1.85 M445.73 214.3 v1.85 M483.84 380.1 v1.85 M483.84 214.3 v1.85 M521.95 380.1 v1.85 M521.95 214.3 v1.85 M331.4 380.1 h-3.15 M541 380.1 h-3.15 M331.4 372.2 h-1.85 M541 372.2 h-1.85 M331.4 364.3 h-3.15 M541 364.3 h-3.15 M331.4 356.4 h-1.85 M541 356.4 h-1.85 M331.4 348.5 h-3.15 M541 348.5 h-3.15 M331.4 340.6 h-1.85 M541 340.6 h-1.85 M331.4 332.7 h-3.15 M541 332.7 h-3.15 M331.4 324.8 h-1.85 M541 324.8 h-1.85 M331.4 316.9 h-3.15 M541 316.9 h-3.15 M331.4 309 h-1.85 M541 309 h-1.85 M331.4 301.1 h-3.15 M541 301.1 h-3.15 M331.4 293.2 h-1.85 M541 293.2 h-1.85 M331.4 285.3 h-3.15 M541 285.3 h-3.15 M331.4 277.4 h-1.85 M541 277.4 h-1.85 M331.4 269.5 h-3.15 M541 269.5 h-3.15 M331.4 261.6 h-1.85 M541 261.6 h-1.85 M331.4 253.7 h-3.15 M541 253.7 h-3.15 M331.4 245.8 h-1.85 M541 245.8 h-1.85 M331.4 237.9 h-3.15 M541 237.9 h-3.15 M331.4 230 h-1.85 M541 230 h-1.85 M331.4 222.1 h-3.15 M541 222.1 h-3.15" stroke="#000" stroke-width="0.99" fill="none"/>
<rect x="331.4" y="214.3" width="209.6" height="165.8" fill="none" stroke="#000" stroke-width="1.1"/>
<text x="325.6" y="383.5" font-size="11.5" text-anchor="end">0.0</text>
<text x="325.6" y="367.7" font-size="11.5" text-anchor="end">0.1</text>
<text x="325.6" y="351.9" font-size="11.5" text-anchor="end">0.2</text>
<text x="325.6" y="336.1" font-size="11.5" text-anchor="end">0.3</text>
<text x="325.6" y="320.3" font-size="11.5" text-anchor="end">0.4</text>
<text x="325.6" y="304.5" font-size="11.5" text-anchor="end">0.5</text>
<text x="325.6" y="288.7" font-size="11.5" text-anchor="end">0.6</text>
<text x="325.6" y="272.9" font-size="11.5" text-anchor="end">0.7</text>
<text x="325.6" y="257.1" font-size="11.5" text-anchor="end">0.8</text>
<text x="325.6" y="241.3" font-size="11.5" text-anchor="end">0.9</text>
<text x="325.6" y="225.5" font-size="11.5" text-anchor="end">1.0</text>
<text x="350.45" y="394.2" font-size="11.5" text-anchor="middle">5</text>
<text x="388.56" y="394.2" font-size="11.5" text-anchor="middle">6</text>
<text x="426.67" y="394.2" font-size="11.5" text-anchor="middle">7</text>
<text x="464.78" y="394.2" font-size="11.5" text-anchor="middle">8</text>
<text x="502.89" y="394.2" font-size="11.5" text-anchor="middle">9</text>
<text x="541" y="394.2" font-size="11.5" text-anchor="middle">10</text>
<rect x="427.4" y="218.1" width="111.1" height="33.8" fill="#fff" stroke="#7a7a7a" stroke-width="0.9"/>
<path d="M428.6 224.6 H451.3" stroke="#515151" stroke-width="2.4" fill="none"/>
<text x="454" y="227.6" font-size="9.45">p-polarization</text>
<path d="M428.6 235.55 H451.3" stroke="#f14040" stroke-width="2.4" stroke-dasharray="12 6" fill="none"/>
<text x="454" y="238.55" font-size="9.45">s-polarization</text>
<path d="M429.4 246.5 H451.3" stroke="#1a6fdf" stroke-width="2.4" stroke-dasharray="3 8.5" fill="none"/>
<text x="454" y="249.5" font-size="9.45">circular polarization</text>
<text y="410.0" font-size="14.3"><tspan x="386.5">Wavalength</tspan><tspan x="460.0" font-size="9.5">(</tspan><tspan x="463.5" font-size="12.5">μ</tspan><tspan x="470.8" font-size="13">m</tspan><tspan x="482.6" font-size="9.5">)</tspan></text>
<text transform="translate(307.2 289.6) rotate(-90)" font-size="13.7" text-anchor="middle">Absorption</text>
<text x="420" y="428.6" font-size="12.5" text-anchor="middle" style="font-weight:normal">(<tspan style="font-weight:bold">d</tspan>)</text>
</g>
</svg></body></html>
